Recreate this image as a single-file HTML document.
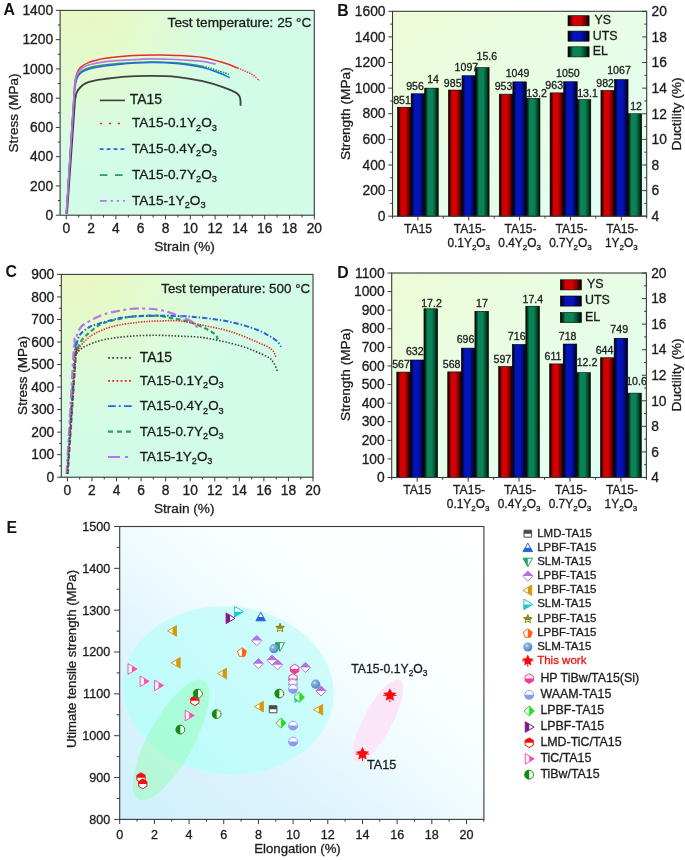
<!DOCTYPE html>
<html><head><meta charset="utf-8"><title>Figure</title>
<style>
html,body{margin:0;padding:0;background:#fff;}
body{width:685px;height:860px;overflow:hidden;}
svg{display:block;font-family:"Liberation Sans", sans-serif;will-change:transform;}
</style></head>
<body>
<svg width="685" height="860" viewBox="0 0 685 860">
<rect x="0" y="0" width="685" height="860" fill="#fff"/>
<defs>
<radialGradient id="bgA" cx="82" cy="6" r="205" gradientUnits="userSpaceOnUse"><stop offset="0" stop-color="#eaf7c2"/><stop offset="0.2" stop-color="#e6fac8"/><stop offset="0.4" stop-color="#e0fbd4"/><stop offset="0.65" stop-color="#d7fce2"/><stop offset="0.85" stop-color="#d2fce8"/><stop offset="1" stop-color="#d2fce8"/></radialGradient>
<radialGradient id="bgC" cx="83" cy="270" r="205" gradientUnits="userSpaceOnUse"><stop offset="0" stop-color="#eaf7c2"/><stop offset="0.2" stop-color="#e6fac8"/><stop offset="0.4" stop-color="#e0fbd4"/><stop offset="0.65" stop-color="#d7fce2"/><stop offset="0.85" stop-color="#d2fce8"/><stop offset="1" stop-color="#d2fce8"/></radialGradient>
<linearGradient id="bgB" x1="0" y1="0" x2="1" y2="1"><stop offset="0" stop-color="#eefcd6"/><stop offset="1" stop-color="#e0fef6"/></linearGradient>
<linearGradient id="bgD" x1="0" y1="0" x2="1" y2="1"><stop offset="0" stop-color="#eefcd6"/><stop offset="1" stop-color="#e0fef6"/></linearGradient>
<linearGradient id="bgE" x1="0" y1="1" x2="1" y2="0"><stop offset="0" stop-color="#cff0fd"/><stop offset="0.3" stop-color="#def4fd"/><stop offset="0.5" stop-color="#f0fbfe"/><stop offset="0.62" stop-color="#f8fffe"/><stop offset="1" stop-color="#ffffff"/></linearGradient>
<linearGradient id="cyE" x1="0" y1="1" x2="1" y2="0"><stop offset="0" stop-color="#b6fcfc"/><stop offset="1" stop-color="#d4fcfa"/></linearGradient>
<linearGradient id="gR" x1="0" y1="0" x2="1" y2="0"><stop offset="0" stop-color="#000"/><stop offset="0.07" stop-color="#280000"/><stop offset="0.25" stop-color="#d20000"/><stop offset="0.58" stop-color="#d20000"/><stop offset="0.82" stop-color="#700000"/><stop offset="1" stop-color="#000"/></linearGradient>
<linearGradient id="gU" x1="0" y1="0" x2="1" y2="0"><stop offset="0" stop-color="#000"/><stop offset="0.07" stop-color="#00022a"/><stop offset="0.25" stop-color="#0414ba"/><stop offset="0.58" stop-color="#0414ba"/><stop offset="0.82" stop-color="#000864"/><stop offset="1" stop-color="#000"/></linearGradient>
<linearGradient id="gE" x1="0" y1="0" x2="1" y2="0"><stop offset="0" stop-color="#000"/><stop offset="0.07" stop-color="#011e12"/><stop offset="0.25" stop-color="#0a8456"/><stop offset="0.58" stop-color="#0a8456"/><stop offset="0.82" stop-color="#02482a"/><stop offset="1" stop-color="#000"/></linearGradient>
<radialGradient id="sph" cx="0.38" cy="0.35" r="0.65"><stop offset="0" stop-color="#e8f2ff"/><stop offset="0.25" stop-color="#8ab4e4"/><stop offset="1" stop-color="#4f86c6"/></radialGradient>
</defs>
<rect x="60.1" y="10.4" width="254.2" height="204.8" fill="url(#bgA)"/>
<path d="M67 213.5 L74.6 106 C75.98 86.83 75 100.58 75.3 98.5 C75.6 96.42 75.92 94.93 76.4 93.5 C76.88 92.07 77.23 91.25 78.2 89.9 C79.17 88.55 80.5 86.7 82.2 85.4 C83.9 84.1 86.2 82.95 88.4 82.1 C90.6 81.25 92.8 80.8 95.4 80.3 C98 79.8 98.95 79.72 104 79.1 C109.05 78.48 118.03 77.13 125.7 76.6 C133.37 76.07 141.57 75.87 150 75.9 C158.43 75.93 167.53 75.92 176.3 76.8 C185.07 77.68 194.72 79.45 202.6 81.2 C210.48 82.95 218.07 85.4 223.6 87.3 C229.13 89.2 233.18 91.13 235.8 92.6 C238.42 94.07 238.53 94.87 239.3 96.1 C240.07 97.33 240.18 98.4 240.4 100 C240.62 101.6 240.57 104.75 240.6 105.7" fill="none" stroke="#404040" stroke-width="1.85" stroke-linejoin="round" />
<path d="M66.4 213.5 L74.4 92 C75.88 70.42 74.93 86.25 75.3 84 C75.67 81.75 76.05 80.12 76.6 78.5 C77.15 76.88 77.7 75.58 78.6 74.3 C79.5 73.02 80.23 71.9 82 70.8 C83.77 69.7 86.2 68.57 89.2 67.7 C92.2 66.83 95.13 66.32 100 65.6 C104.87 64.88 110.07 64.02 118.4 63.4 C126.73 62.78 140.35 62 150 61.9 C159.65 61.8 167.53 62.07 176.3 62.8 C185.07 63.53 195.3 64.85 202.6 66.3" fill="none" stroke="#2a9e5e" stroke-width="1.5" stroke-linejoin="round"/>
<path d="M202.6 66.3 C209.9 67.75 215.73 70.18 220.1 71.5 C224.47 72.82 227.35 73.75 228.8 74.2" fill="none" stroke="#2a9e5e" stroke-width="1.6" stroke-dasharray="1.6 1.0"/>
<path d="M66.4 213.5 L74.5 92 C76 70.5 75.07 86.58 75.4 84.5 C75.73 82.42 75.83 81.2 76.5 79.5 C77.17 77.8 78 75.8 79.4 74.3 C80.8 72.8 82.23 71.65 84.9 70.5 C87.57 69.35 89.82 68.42 95.4 67.4 C100.98 66.38 109.3 65.2 118.4 64.4 C127.5 63.6 140.35 62.75 150 62.6 C159.65 62.45 167.53 62.7 176.3 63.5 C185.07 64.3 195.3 65.77 202.6 67.4 C209.9 69.03 215.58 71.58 220.1 73.3 C224.62 75.02 228.1 76.97 229.7 77.7" fill="none" stroke="#2466dc" stroke-width="1.5" stroke-linejoin="round" />
<path d="M66.3 213.5 L74.2 92 C75.65 70.17 74.65 85.25 75 82.5 C75.35 79.75 75.77 77.5 76.3 75.5 C76.83 73.5 77.33 71.98 78.2 70.5 C79.07 69.02 79.8 67.92 81.5 66.6 C83.2 65.28 85.9 63.67 88.4 62.6 C90.9 61.53 93.9 60.87 96.5 60.2 C99.1 59.53 100.35 59.17 104 58.6 C107.65 58.03 112.35 57.35 118.4 56.8 C124.45 56.25 133.37 55.6 140.3 55.3 C147.23 55 154 54.98 160 55 C166 55.02 169.2 54.98 176.3 55.4 C183.4 55.82 194.72 56.27 202.6 57.5 C210.48 58.73 217.77 61.05 223.6 62.8 C229.43 64.55 232.93 66.1 237.6 68" fill="none" stroke="#ea2a2a" stroke-width="1.5" stroke-linejoin="round"/>
<path d="M237.6 68 C242.27 69.9 247.95 72.1 251.6 74.2 C255.25 76.3 258.18 79.53 259.5 80.6" fill="none" stroke="#ea2a2a" stroke-width="1.5" stroke-dasharray="1.3 1.2"/>
<path d="M66.3 213.5 L74.2 92 C75.65 70.25 74.63 85.58 75 83 C75.37 80.42 75.85 78.33 76.4 76.5 C76.95 74.67 77.37 73.37 78.3 72 C79.23 70.63 80.18 69.5 82 68.3 C83.82 67.1 85.57 65.87 89.2 64.8 C92.83 63.73 96.5 62.75 103.8 61.9 C111.1 61.05 125.3 60.2 133 59.7 C140.7 59.2 143.83 58.97 150 58.9 C156.17 58.83 164.17 59.1 170 59.3 C175.83 59.5 179.57 59.75 185 60.1 C190.43 60.45 197.48 60.72 202.6 61.4 C207.72 62.08 213.52 63.73 215.7 64.2" fill="none" stroke="#b27ae6" stroke-width="1.6" stroke-linejoin="round" />
<rect x="60.1" y="10.4" width="254.2" height="204.8" fill="none" stroke="#3a3a3a" stroke-width="1.1"/>
<line x1="57.8" y1="200.57" x2="60.1" y2="200.57" stroke="#3a3a3a" stroke-width="1" />
<line x1="57.8" y1="171.31" x2="60.1" y2="171.31" stroke="#3a3a3a" stroke-width="1" />
<line x1="57.8" y1="142.06" x2="60.1" y2="142.06" stroke="#3a3a3a" stroke-width="1" />
<line x1="57.8" y1="112.8" x2="60.1" y2="112.8" stroke="#3a3a3a" stroke-width="1" />
<line x1="57.8" y1="83.54" x2="60.1" y2="83.54" stroke="#3a3a3a" stroke-width="1" />
<line x1="57.8" y1="54.28" x2="60.1" y2="54.28" stroke="#3a3a3a" stroke-width="1" />
<line x1="57.8" y1="25.02" x2="60.1" y2="25.02" stroke="#3a3a3a" stroke-width="1" />
<line x1="55.9" y1="215.2" x2="60.1" y2="215.2" stroke="#3a3a3a" stroke-width="1" />
<text transform="translate(53.1 219.8) scale(1 1)" font-size="13.8" text-anchor="end" fill="#1c1c1c" font-weight="normal" stroke="#1c1c1c" stroke-width="0.3" >0</text>
<line x1="55.9" y1="185.94" x2="60.1" y2="185.94" stroke="#3a3a3a" stroke-width="1" />
<text transform="translate(53.1 190.54) scale(1 1)" font-size="13.8" text-anchor="end" fill="#1c1c1c" font-weight="normal" stroke="#1c1c1c" stroke-width="0.3" >200</text>
<line x1="55.9" y1="156.68" x2="60.1" y2="156.68" stroke="#3a3a3a" stroke-width="1" />
<text transform="translate(53.1 161.28) scale(1 1)" font-size="13.8" text-anchor="end" fill="#1c1c1c" font-weight="normal" stroke="#1c1c1c" stroke-width="0.3" >400</text>
<line x1="55.9" y1="127.43" x2="60.1" y2="127.43" stroke="#3a3a3a" stroke-width="1" />
<text transform="translate(53.1 132.03) scale(1 1)" font-size="13.8" text-anchor="end" fill="#1c1c1c" font-weight="normal" stroke="#1c1c1c" stroke-width="0.3" >600</text>
<line x1="55.9" y1="98.17" x2="60.1" y2="98.17" stroke="#3a3a3a" stroke-width="1" />
<text transform="translate(53.1 102.77) scale(1 1)" font-size="13.8" text-anchor="end" fill="#1c1c1c" font-weight="normal" stroke="#1c1c1c" stroke-width="0.3" >800</text>
<line x1="55.9" y1="68.91" x2="60.1" y2="68.91" stroke="#3a3a3a" stroke-width="1" />
<text transform="translate(53.1 73.51) scale(1 1)" font-size="13.8" text-anchor="end" fill="#1c1c1c" font-weight="normal" stroke="#1c1c1c" stroke-width="0.3" >1000</text>
<line x1="55.9" y1="39.65" x2="60.1" y2="39.65" stroke="#3a3a3a" stroke-width="1" />
<text transform="translate(53.1 44.25) scale(1 1)" font-size="13.8" text-anchor="end" fill="#1c1c1c" font-weight="normal" stroke="#1c1c1c" stroke-width="0.3" >1200</text>
<line x1="55.9" y1="10.39" x2="60.1" y2="10.39" stroke="#3a3a3a" stroke-width="1" />
<text transform="translate(53.1 14.99) scale(1 1)" font-size="13.8" text-anchor="end" fill="#1c1c1c" font-weight="normal" stroke="#1c1c1c" stroke-width="0.3" >1400</text>
<line x1="78.7" y1="215.2" x2="78.7" y2="217.5" stroke="#3a3a3a" stroke-width="1" />
<line x1="103.5" y1="215.2" x2="103.5" y2="217.5" stroke="#3a3a3a" stroke-width="1" />
<line x1="128.3" y1="215.2" x2="128.3" y2="217.5" stroke="#3a3a3a" stroke-width="1" />
<line x1="153.1" y1="215.2" x2="153.1" y2="217.5" stroke="#3a3a3a" stroke-width="1" />
<line x1="177.9" y1="215.2" x2="177.9" y2="217.5" stroke="#3a3a3a" stroke-width="1" />
<line x1="202.7" y1="215.2" x2="202.7" y2="217.5" stroke="#3a3a3a" stroke-width="1" />
<line x1="227.5" y1="215.2" x2="227.5" y2="217.5" stroke="#3a3a3a" stroke-width="1" />
<line x1="252.3" y1="215.2" x2="252.3" y2="217.5" stroke="#3a3a3a" stroke-width="1" />
<line x1="277.1" y1="215.2" x2="277.1" y2="217.5" stroke="#3a3a3a" stroke-width="1" />
<line x1="301.9" y1="215.2" x2="301.9" y2="217.5" stroke="#3a3a3a" stroke-width="1" />
<line x1="66.3" y1="215.2" x2="66.3" y2="219.4" stroke="#3a3a3a" stroke-width="1" />
<text transform="translate(66.3 232.9) scale(1 1)" font-size="13.8" text-anchor="middle" fill="#1c1c1c" font-weight="normal" stroke="#1c1c1c" stroke-width="0.3" >0</text>
<line x1="91.1" y1="215.2" x2="91.1" y2="219.4" stroke="#3a3a3a" stroke-width="1" />
<text transform="translate(91.1 232.9) scale(1 1)" font-size="13.8" text-anchor="middle" fill="#1c1c1c" font-weight="normal" stroke="#1c1c1c" stroke-width="0.3" >2</text>
<line x1="115.9" y1="215.2" x2="115.9" y2="219.4" stroke="#3a3a3a" stroke-width="1" />
<text transform="translate(115.9 232.9) scale(1 1)" font-size="13.8" text-anchor="middle" fill="#1c1c1c" font-weight="normal" stroke="#1c1c1c" stroke-width="0.3" >4</text>
<line x1="140.7" y1="215.2" x2="140.7" y2="219.4" stroke="#3a3a3a" stroke-width="1" />
<text transform="translate(140.7 232.9) scale(1 1)" font-size="13.8" text-anchor="middle" fill="#1c1c1c" font-weight="normal" stroke="#1c1c1c" stroke-width="0.3" >6</text>
<line x1="165.5" y1="215.2" x2="165.5" y2="219.4" stroke="#3a3a3a" stroke-width="1" />
<text transform="translate(165.5 232.9) scale(1 1)" font-size="13.8" text-anchor="middle" fill="#1c1c1c" font-weight="normal" stroke="#1c1c1c" stroke-width="0.3" >8</text>
<line x1="190.3" y1="215.2" x2="190.3" y2="219.4" stroke="#3a3a3a" stroke-width="1" />
<text transform="translate(190.3 232.9) scale(1 1)" font-size="13.8" text-anchor="middle" fill="#1c1c1c" font-weight="normal" stroke="#1c1c1c" stroke-width="0.3" >10</text>
<line x1="215.1" y1="215.2" x2="215.1" y2="219.4" stroke="#3a3a3a" stroke-width="1" />
<text transform="translate(215.1 232.9) scale(1 1)" font-size="13.8" text-anchor="middle" fill="#1c1c1c" font-weight="normal" stroke="#1c1c1c" stroke-width="0.3" >12</text>
<line x1="239.9" y1="215.2" x2="239.9" y2="219.4" stroke="#3a3a3a" stroke-width="1" />
<text transform="translate(239.9 232.9) scale(1 1)" font-size="13.8" text-anchor="middle" fill="#1c1c1c" font-weight="normal" stroke="#1c1c1c" stroke-width="0.3" >14</text>
<line x1="264.7" y1="215.2" x2="264.7" y2="219.4" stroke="#3a3a3a" stroke-width="1" />
<text transform="translate(264.7 232.9) scale(1 1)" font-size="13.8" text-anchor="middle" fill="#1c1c1c" font-weight="normal" stroke="#1c1c1c" stroke-width="0.3" >16</text>
<line x1="289.5" y1="215.2" x2="289.5" y2="219.4" stroke="#3a3a3a" stroke-width="1" />
<text transform="translate(289.5 232.9) scale(1 1)" font-size="13.8" text-anchor="middle" fill="#1c1c1c" font-weight="normal" stroke="#1c1c1c" stroke-width="0.3" >18</text>
<line x1="314.3" y1="215.2" x2="314.3" y2="219.4" stroke="#3a3a3a" stroke-width="1" />
<text transform="translate(314.3 232.9) scale(1 1)" font-size="13.8" text-anchor="middle" fill="#1c1c1c" font-weight="normal" stroke="#1c1c1c" stroke-width="0.3" >20</text>
<text transform="translate(3.4 14.9) scale(1 1)" font-size="15.8" text-anchor="start" fill="#111" font-weight="bold" >A</text>
<text transform="translate(311.3 27.2) scale(1 1)" font-size="13.6" text-anchor="end" fill="#1c1c1c" font-weight="normal" stroke="#1c1c1c" stroke-width="0.3" >Test temperature: 25 °C</text>
<text transform="translate(184.5 251.1) scale(1 1)" font-size="13.65" text-anchor="middle" fill="#1c1c1c" font-weight="normal" stroke="#1c1c1c" stroke-width="0.3" >Strain (%)</text>
<text transform="translate(18.3 112.9) rotate(-90)" font-size="13.55" text-anchor="middle" fill="#1c1c1c" font-weight="normal" stroke="#1c1c1c" stroke-width="0.3" >Stress (MPa)</text>
<line x1="99.8" y1="100.4" x2="124.9" y2="100.4" stroke="#404040" stroke-width="1.6" />
<text transform="translate(129.7 104.4) scale(1 1)" font-size="13.9" text-anchor="start" fill="#1c1c1c" font-weight="normal" stroke="#1c1c1c" stroke-width="0.3" >TA15</text>
<line x1="99.8" y1="123.5" x2="124.9" y2="123.5" stroke="#ea2a2a" stroke-width="1.6" stroke-dasharray="2.2 6.8"/>
<text transform="translate(132 127.4) scale(1 1)" font-size="13.6" text-anchor="start" fill="#1a1a1a" stroke="#1a1a1a" stroke-width="0.3" >TA15-0.1Y<tspan font-size="9.25" dy="3.2">2</tspan><tspan dy="-3.2">O</tspan><tspan font-size="9.25" dy="3.2">3</tspan></text>
<line x1="99.8" y1="149.1" x2="124.9" y2="149.1" stroke="#2466dc" stroke-width="1.6" stroke-dasharray="3.8 3.1"/>
<text transform="translate(132 153) scale(1 1)" font-size="13.6" text-anchor="start" fill="#1a1a1a" stroke="#1a1a1a" stroke-width="0.3" >TA15-0.4Y<tspan font-size="9.25" dy="3.2">2</tspan><tspan dy="-3.2">O</tspan><tspan font-size="9.25" dy="3.2">3</tspan></text>
<line x1="99.8" y1="175.2" x2="124.9" y2="175.2" stroke="#2a9e5e" stroke-width="1.75" stroke-dasharray="7.6 7.6"/>
<text transform="translate(132 179.1) scale(1 1)" font-size="13.6" text-anchor="start" fill="#1a1a1a" stroke="#1a1a1a" stroke-width="0.3" >TA15-0.7Y<tspan font-size="9.25" dy="3.2">2</tspan><tspan dy="-3.2">O</tspan><tspan font-size="9.25" dy="3.2">3</tspan></text>
<line x1="99.8" y1="200.9" x2="124.9" y2="200.9" stroke="#b27ae6" stroke-width="1.9" stroke-dasharray="7 3.8 2.3 3.8 2.3 4 2 10"/>
<text transform="translate(132 204.8) scale(1 1)" font-size="13.6" text-anchor="start" fill="#1a1a1a" stroke="#1a1a1a" stroke-width="0.3" >TA15-1Y<tspan font-size="9.25" dy="3.2">2</tspan><tspan dy="-3.2">O</tspan><tspan font-size="9.25" dy="3.2">3</tspan></text>
<rect x="61.3" y="274.4" width="251.7" height="202.8" fill="url(#bgC)"/>
<path d="M67.8 474 L75.6 358 C77.22 337.5 76.77 353.5 77.5 351 C78.23 348.5 78.53 345.62 80 343 C81.47 340.38 83.8 337.8 86.3 335.3 C88.8 332.8 92.08 330.05 95 328 C97.92 325.95 97.95 324.85 103.8 323 C109.65 321.15 121.33 318.12 130.1 316.9 C138.87 315.68 149.75 315.55 156.4 315.7 C163.05 315.85 164.82 316.87 170 317.8 C175.18 318.73 181.67 319.55 187.5 321.3 C193.33 323.05 200.83 326.43 205 328.3 C209.17 330.17 210.62 331.25 212.5 332.5 C214.38 333.75 215.43 334.67 216.3 335.8 C217.17 336.93 217.47 338.72 217.7 339.3" fill="none" stroke="#2a9e5e" stroke-width="2.2" stroke-linejoin="round" stroke-dasharray="4.6 2.8"/>
<path d="M67.2 474 L74.6 354 C76.03 332.93 75.23 350.1 75.8 347.6 C76.37 345.1 77.13 341.35 78 339 C78.87 336.65 79.33 335.33 81 333.5 C82.67 331.67 85.67 329.45 88 328 C90.33 326.55 89.45 326.5 95 324.8 C100.55 323.1 112.53 319.27 121.3 317.8 C130.07 316.33 137.82 316.3 147.6 316 C157.38 315.7 170.43 315.65 180 316 C189.57 316.35 196.45 317.07 205 318.1 C213.55 319.13 222.53 320.22 231.3 322.2 C240.07 324.18 250.3 327.08 257.6 330 C264.9 332.92 271.17 336.92 275.1 339.7 C279.03 342.48 280.18 345.53 281.2 346.7" fill="none" stroke="#2466dc" stroke-width="2" stroke-linejoin="round" stroke-dasharray="5.2 2 1.4 2"/>
<path d="M66.6 474 L73.7 350 C75.08 328.05 74.27 345.05 74.9 342.3 C75.53 339.55 76.48 336.05 77.5 333.5 C78.52 330.95 79.53 328.75 81 327 C82.47 325.25 82.5 325.12 86.3 323 C90.1 320.88 96.5 316.63 103.8 314.3 C111.1 311.97 122.8 309.93 130.1 309 C137.4 308.07 142.62 308.53 147.6 308.7 C152.58 308.87 155.92 309.22 160 310 C164.08 310.78 168.1 312.1 172.1 313.4 C176.1 314.7 180.43 316.22 184 317.8 C187.57 319.38 191.4 321.37 193.5 322.9 C195.6 324.43 195.97 325.57 196.6 327 C197.23 328.43 197.18 330.75 197.3 331.5" fill="none" stroke="#b27ae6" stroke-width="2.2" stroke-linejoin="round" stroke-dasharray="9 3.5 3 3.5"/>
<path d="M67.2 474 L75 358 C76.55 337.67 75.78 353.73 76.5 352 C77.22 350.27 77.72 349.6 79.3 347.6 C80.88 345.6 83.38 342.35 86 340 C88.62 337.65 90.57 335.75 95 333.5 C99.43 331.25 105.3 328.38 112.6 326.5 C119.9 324.62 130.9 323.12 138.8 322.2 C146.7 321.28 153.13 321.2 160 321 C166.87 320.8 172.5 320.22 180 321 C187.5 321.78 196.45 323.9 205 325.7 C213.55 327.5 222.53 329.03 231.3 331.8 C240.07 334.57 250.88 339.38 257.6 342.3 C264.32 345.22 268.53 346.82 271.6 349.3 C274.67 351.78 275.27 355.88 276 357.2" fill="none" stroke="#ea2a2a" stroke-width="1.6" stroke-linejoin="round" stroke-dasharray="1.4 1.3"/>
<path d="M67.5 474 L75.5 360 C77.08 339.83 76.37 354.58 77 353 C77.63 351.42 77.75 351.7 79.3 350.5 C80.85 349.3 82.22 347.6 86.3 345.8 C90.38 344 96.5 341.3 103.8 339.7 C111.1 338.1 121.33 336.93 130.1 336.2 C138.87 335.47 148.08 335.3 156.4 335.3 C164.72 335.3 171.9 335.77 180 336.2 C188.1 336.63 194.98 336.3 205 337.9 C215.02 339.5 229.87 342.73 240.1 345.8 C250.33 348.87 260.85 353.53 266.4 356.3 C271.95 359.07 271.52 359.77 273.4 362.4 C275.28 365.03 276.98 370.48 277.7 372.1" fill="none" stroke="#404040" stroke-width="1.6" stroke-linejoin="round" stroke-dasharray="1.5 1.7"/>
<rect x="61.3" y="274.4" width="251.7" height="202.8" fill="none" stroke="#3a3a3a" stroke-width="1.1"/>
<line x1="59" y1="465.93" x2="61.3" y2="465.93" stroke="#3a3a3a" stroke-width="1" />
<line x1="59" y1="443.4" x2="61.3" y2="443.4" stroke="#3a3a3a" stroke-width="1" />
<line x1="59" y1="420.87" x2="61.3" y2="420.87" stroke="#3a3a3a" stroke-width="1" />
<line x1="59" y1="398.33" x2="61.3" y2="398.33" stroke="#3a3a3a" stroke-width="1" />
<line x1="59" y1="375.8" x2="61.3" y2="375.8" stroke="#3a3a3a" stroke-width="1" />
<line x1="59" y1="353.27" x2="61.3" y2="353.27" stroke="#3a3a3a" stroke-width="1" />
<line x1="59" y1="330.74" x2="61.3" y2="330.74" stroke="#3a3a3a" stroke-width="1" />
<line x1="59" y1="308.2" x2="61.3" y2="308.2" stroke="#3a3a3a" stroke-width="1" />
<line x1="59" y1="285.67" x2="61.3" y2="285.67" stroke="#3a3a3a" stroke-width="1" />
<line x1="57.1" y1="477.2" x2="61.3" y2="477.2" stroke="#3a3a3a" stroke-width="1" />
<text transform="translate(54.3 481.8) scale(1 1)" font-size="13.8" text-anchor="end" fill="#1c1c1c" font-weight="normal" stroke="#1c1c1c" stroke-width="0.3" >0</text>
<line x1="57.1" y1="454.67" x2="61.3" y2="454.67" stroke="#3a3a3a" stroke-width="1" />
<text transform="translate(54.3 459.27) scale(1 1)" font-size="13.8" text-anchor="end" fill="#1c1c1c" font-weight="normal" stroke="#1c1c1c" stroke-width="0.3" >100</text>
<line x1="57.1" y1="432.13" x2="61.3" y2="432.13" stroke="#3a3a3a" stroke-width="1" />
<text transform="translate(54.3 436.73) scale(1 1)" font-size="13.8" text-anchor="end" fill="#1c1c1c" font-weight="normal" stroke="#1c1c1c" stroke-width="0.3" >200</text>
<line x1="57.1" y1="409.6" x2="61.3" y2="409.6" stroke="#3a3a3a" stroke-width="1" />
<text transform="translate(54.3 414.2) scale(1 1)" font-size="13.8" text-anchor="end" fill="#1c1c1c" font-weight="normal" stroke="#1c1c1c" stroke-width="0.3" >300</text>
<line x1="57.1" y1="387.07" x2="61.3" y2="387.07" stroke="#3a3a3a" stroke-width="1" />
<text transform="translate(54.3 391.67) scale(1 1)" font-size="13.8" text-anchor="end" fill="#1c1c1c" font-weight="normal" stroke="#1c1c1c" stroke-width="0.3" >400</text>
<line x1="57.1" y1="364.53" x2="61.3" y2="364.53" stroke="#3a3a3a" stroke-width="1" />
<text transform="translate(54.3 369.13) scale(1 1)" font-size="13.8" text-anchor="end" fill="#1c1c1c" font-weight="normal" stroke="#1c1c1c" stroke-width="0.3" >500</text>
<line x1="57.1" y1="342" x2="61.3" y2="342" stroke="#3a3a3a" stroke-width="1" />
<text transform="translate(54.3 346.6) scale(1 1)" font-size="13.8" text-anchor="end" fill="#1c1c1c" font-weight="normal" stroke="#1c1c1c" stroke-width="0.3" >600</text>
<line x1="57.1" y1="319.47" x2="61.3" y2="319.47" stroke="#3a3a3a" stroke-width="1" />
<text transform="translate(54.3 324.07) scale(1 1)" font-size="13.8" text-anchor="end" fill="#1c1c1c" font-weight="normal" stroke="#1c1c1c" stroke-width="0.3" >700</text>
<line x1="57.1" y1="296.94" x2="61.3" y2="296.94" stroke="#3a3a3a" stroke-width="1" />
<text transform="translate(54.3 301.54) scale(1 1)" font-size="13.8" text-anchor="end" fill="#1c1c1c" font-weight="normal" stroke="#1c1c1c" stroke-width="0.3" >800</text>
<line x1="57.1" y1="274.4" x2="61.3" y2="274.4" stroke="#3a3a3a" stroke-width="1" />
<text transform="translate(54.3 279) scale(1 1)" font-size="13.8" text-anchor="end" fill="#1c1c1c" font-weight="normal" stroke="#1c1c1c" stroke-width="0.3" >900</text>
<line x1="79.68" y1="477.2" x2="79.68" y2="479.5" stroke="#3a3a3a" stroke-width="1" />
<line x1="104.24" y1="477.2" x2="104.24" y2="479.5" stroke="#3a3a3a" stroke-width="1" />
<line x1="128.8" y1="477.2" x2="128.8" y2="479.5" stroke="#3a3a3a" stroke-width="1" />
<line x1="153.36" y1="477.2" x2="153.36" y2="479.5" stroke="#3a3a3a" stroke-width="1" />
<line x1="177.92" y1="477.2" x2="177.92" y2="479.5" stroke="#3a3a3a" stroke-width="1" />
<line x1="202.48" y1="477.2" x2="202.48" y2="479.5" stroke="#3a3a3a" stroke-width="1" />
<line x1="227.04" y1="477.2" x2="227.04" y2="479.5" stroke="#3a3a3a" stroke-width="1" />
<line x1="251.6" y1="477.2" x2="251.6" y2="479.5" stroke="#3a3a3a" stroke-width="1" />
<line x1="276.16" y1="477.2" x2="276.16" y2="479.5" stroke="#3a3a3a" stroke-width="1" />
<line x1="300.72" y1="477.2" x2="300.72" y2="479.5" stroke="#3a3a3a" stroke-width="1" />
<line x1="67.4" y1="477.2" x2="67.4" y2="481.4" stroke="#3a3a3a" stroke-width="1" />
<text transform="translate(67.4 494.9) scale(1 1)" font-size="13.8" text-anchor="middle" fill="#1c1c1c" font-weight="normal" stroke="#1c1c1c" stroke-width="0.3" >0</text>
<line x1="91.96" y1="477.2" x2="91.96" y2="481.4" stroke="#3a3a3a" stroke-width="1" />
<text transform="translate(91.96 494.9) scale(1 1)" font-size="13.8" text-anchor="middle" fill="#1c1c1c" font-weight="normal" stroke="#1c1c1c" stroke-width="0.3" >2</text>
<line x1="116.52" y1="477.2" x2="116.52" y2="481.4" stroke="#3a3a3a" stroke-width="1" />
<text transform="translate(116.52 494.9) scale(1 1)" font-size="13.8" text-anchor="middle" fill="#1c1c1c" font-weight="normal" stroke="#1c1c1c" stroke-width="0.3" >4</text>
<line x1="141.08" y1="477.2" x2="141.08" y2="481.4" stroke="#3a3a3a" stroke-width="1" />
<text transform="translate(141.08 494.9) scale(1 1)" font-size="13.8" text-anchor="middle" fill="#1c1c1c" font-weight="normal" stroke="#1c1c1c" stroke-width="0.3" >6</text>
<line x1="165.64" y1="477.2" x2="165.64" y2="481.4" stroke="#3a3a3a" stroke-width="1" />
<text transform="translate(165.64 494.9) scale(1 1)" font-size="13.8" text-anchor="middle" fill="#1c1c1c" font-weight="normal" stroke="#1c1c1c" stroke-width="0.3" >8</text>
<line x1="190.2" y1="477.2" x2="190.2" y2="481.4" stroke="#3a3a3a" stroke-width="1" />
<text transform="translate(190.2 494.9) scale(1 1)" font-size="13.8" text-anchor="middle" fill="#1c1c1c" font-weight="normal" stroke="#1c1c1c" stroke-width="0.3" >10</text>
<line x1="214.76" y1="477.2" x2="214.76" y2="481.4" stroke="#3a3a3a" stroke-width="1" />
<text transform="translate(214.76 494.9) scale(1 1)" font-size="13.8" text-anchor="middle" fill="#1c1c1c" font-weight="normal" stroke="#1c1c1c" stroke-width="0.3" >12</text>
<line x1="239.32" y1="477.2" x2="239.32" y2="481.4" stroke="#3a3a3a" stroke-width="1" />
<text transform="translate(239.32 494.9) scale(1 1)" font-size="13.8" text-anchor="middle" fill="#1c1c1c" font-weight="normal" stroke="#1c1c1c" stroke-width="0.3" >14</text>
<line x1="263.88" y1="477.2" x2="263.88" y2="481.4" stroke="#3a3a3a" stroke-width="1" />
<text transform="translate(263.88 494.9) scale(1 1)" font-size="13.8" text-anchor="middle" fill="#1c1c1c" font-weight="normal" stroke="#1c1c1c" stroke-width="0.3" >16</text>
<line x1="288.44" y1="477.2" x2="288.44" y2="481.4" stroke="#3a3a3a" stroke-width="1" />
<text transform="translate(288.44 494.9) scale(1 1)" font-size="13.8" text-anchor="middle" fill="#1c1c1c" font-weight="normal" stroke="#1c1c1c" stroke-width="0.3" >18</text>
<line x1="313" y1="477.2" x2="313" y2="481.4" stroke="#3a3a3a" stroke-width="1" />
<text transform="translate(313 494.9) scale(1 1)" font-size="13.8" text-anchor="middle" fill="#1c1c1c" font-weight="normal" stroke="#1c1c1c" stroke-width="0.3" >20</text>
<text transform="translate(5.4 277.3) scale(1 1)" font-size="15.8" text-anchor="start" fill="#111" font-weight="bold" >C</text>
<text transform="translate(310.2 293) scale(1 1)" font-size="13.4" text-anchor="end" fill="#1c1c1c" font-weight="normal" stroke="#1c1c1c" stroke-width="0.3" >Test temperature: 500 °C</text>
<text transform="translate(184.2 513.4) scale(1 1)" font-size="13.65" text-anchor="middle" fill="#1c1c1c" font-weight="normal" stroke="#1c1c1c" stroke-width="0.3" >Strain (%)</text>
<text transform="translate(27.1 375.5) rotate(-90)" font-size="13.5" text-anchor="middle" fill="#1c1c1c" font-weight="normal" stroke="#1c1c1c" stroke-width="0.3" >Stress (MPa)</text>
<line x1="108" y1="357.9" x2="133.2" y2="357.9" stroke="#4a4a4a" stroke-width="1.9" stroke-dasharray="1.9 2.3"/>
<text transform="translate(139.8 361.8) scale(1 1)" font-size="13.9" text-anchor="start" fill="#1c1c1c" font-weight="normal" stroke="#1c1c1c" stroke-width="0.3" >TA15</text>
<line x1="108" y1="380.9" x2="133.2" y2="380.9" stroke="#ea2a2a" stroke-width="1.9" stroke-dasharray="1.9 2.3"/>
<text transform="translate(139.8 385.2) scale(1 1)" font-size="13.45" text-anchor="start" fill="#1a1a1a" stroke="#1a1a1a" stroke-width="0.3" >TA15-0.1Y<tspan font-size="9.15" dy="3.2">2</tspan><tspan dy="-3.2">O</tspan><tspan font-size="9.15" dy="3.2">3</tspan></text>
<line x1="108" y1="406.1" x2="133.2" y2="406.1" stroke="#2466dc" stroke-width="1.9" stroke-dasharray="7.8 3 1.9 3.2 7.8 10"/>
<text transform="translate(139.8 410.4) scale(1 1)" font-size="13.45" text-anchor="start" fill="#1a1a1a" stroke="#1a1a1a" stroke-width="0.3" >TA15-0.4Y<tspan font-size="9.15" dy="3.2">2</tspan><tspan dy="-3.2">O</tspan><tspan font-size="9.15" dy="3.2">3</tspan></text>
<line x1="108" y1="431.6" x2="133.2" y2="431.6" stroke="#2a9e5e" stroke-width="2.4" stroke-dasharray="5 3.95"/>
<text transform="translate(139.8 435.9) scale(1 1)" font-size="13.45" text-anchor="start" fill="#1a1a1a" stroke="#1a1a1a" stroke-width="0.3" >TA15-0.7Y<tspan font-size="9.15" dy="3.2">2</tspan><tspan dy="-3.2">O</tspan><tspan font-size="9.15" dy="3.2">3</tspan></text>
<line x1="108" y1="456.9" x2="133.2" y2="456.9" stroke="#b27ae6" stroke-width="2" stroke-dasharray="12 4.9 3.2 10"/>
<text transform="translate(139.8 461.2) scale(1 1)" font-size="13.45" text-anchor="start" fill="#1a1a1a" stroke="#1a1a1a" stroke-width="0.3" >TA15-1Y<tspan font-size="9.15" dy="3.2">2</tspan><tspan dy="-3.2">O</tspan><tspan font-size="9.15" dy="3.2">3</tspan></text>
<rect x="392.5" y="11.3" width="254.2" height="204.9" fill="url(#bgB)"/>
<rect x="397.58" y="107.22" width="13.56" height="108.98" fill="url(#gR)" stroke="#000" stroke-width="0.6"/>
<rect x="411.14" y="93.77" width="13.56" height="122.43" fill="url(#gU)" stroke="#000" stroke-width="0.6"/>
<rect x="424.7" y="88.14" width="13.56" height="128.06" fill="url(#gE)" stroke="#000" stroke-width="0.6"/>
<rect x="448.42" y="90.06" width="13.56" height="126.14" fill="url(#gR)" stroke="#000" stroke-width="0.6"/>
<rect x="461.98" y="75.72" width="13.56" height="140.48" fill="url(#gU)" stroke="#000" stroke-width="0.6"/>
<rect x="475.54" y="67.65" width="13.56" height="148.55" fill="url(#gE)" stroke="#000" stroke-width="0.6"/>
<rect x="499.26" y="94.16" width="13.56" height="122.04" fill="url(#gR)" stroke="#000" stroke-width="0.6"/>
<rect x="512.82" y="81.86" width="13.56" height="134.34" fill="url(#gU)" stroke="#000" stroke-width="0.6"/>
<rect x="526.38" y="98.38" width="13.56" height="117.82" fill="url(#gE)" stroke="#000" stroke-width="0.6"/>
<rect x="550.1" y="92.88" width="13.56" height="123.32" fill="url(#gR)" stroke="#000" stroke-width="0.6"/>
<rect x="563.66" y="81.73" width="13.56" height="134.47" fill="url(#gU)" stroke="#000" stroke-width="0.6"/>
<rect x="577.22" y="99.66" width="13.56" height="116.54" fill="url(#gE)" stroke="#000" stroke-width="0.6"/>
<rect x="600.94" y="90.44" width="13.56" height="125.76" fill="url(#gR)" stroke="#000" stroke-width="0.6"/>
<rect x="614.5" y="79.56" width="13.56" height="136.64" fill="url(#gU)" stroke="#000" stroke-width="0.6"/>
<rect x="628.06" y="113.75" width="13.56" height="102.45" fill="url(#gE)" stroke="#000" stroke-width="0.6"/>
<text transform="translate(402 103.7) scale(1 1)" font-size="10.6" text-anchor="middle" fill="#1c1c1c" font-weight="normal" stroke="#1c1c1c" stroke-width="0.3" >851</text>
<text transform="translate(415 89.7) scale(1 1)" font-size="10.6" text-anchor="middle" fill="#1c1c1c" font-weight="normal" stroke="#1c1c1c" stroke-width="0.3" >956</text>
<text transform="translate(433.1 82.5) scale(1 1)" font-size="10.6" text-anchor="middle" fill="#1c1c1c" font-weight="normal" stroke="#1c1c1c" stroke-width="0.3" >14</text>
<text transform="translate(452.7 86.7) scale(1 1)" font-size="10.6" text-anchor="middle" fill="#1c1c1c" font-weight="normal" stroke="#1c1c1c" stroke-width="0.3" >985</text>
<text transform="translate(466.4 71.4) scale(1 1)" font-size="10.6" text-anchor="middle" fill="#1c1c1c" font-weight="normal" stroke="#1c1c1c" stroke-width="0.3" >1097</text>
<text transform="translate(486.9 59.8) scale(1 1)" font-size="10.6" text-anchor="middle" fill="#1c1c1c" font-weight="normal" stroke="#1c1c1c" stroke-width="0.3" >15.6</text>
<text transform="translate(503.5 90.2) scale(1 1)" font-size="10.6" text-anchor="middle" fill="#1c1c1c" font-weight="normal" stroke="#1c1c1c" stroke-width="0.3" >953</text>
<text transform="translate(517.5 77.4) scale(1 1)" font-size="10.6" text-anchor="middle" fill="#1c1c1c" font-weight="normal" stroke="#1c1c1c" stroke-width="0.3" >1049</text>
<text transform="translate(536.6 97.1) scale(1 1)" font-size="10.6" text-anchor="middle" fill="#1c1c1c" font-weight="normal" stroke="#1c1c1c" stroke-width="0.3" >13.2</text>
<text transform="translate(554.2 89) scale(1 1)" font-size="10.6" text-anchor="middle" fill="#1c1c1c" font-weight="normal" stroke="#1c1c1c" stroke-width="0.3" >963</text>
<text transform="translate(567.9 77.4) scale(1 1)" font-size="10.6" text-anchor="middle" fill="#1c1c1c" font-weight="normal" stroke="#1c1c1c" stroke-width="0.3" >1050</text>
<text transform="translate(587.5 97.1) scale(1 1)" font-size="10.6" text-anchor="middle" fill="#1c1c1c" font-weight="normal" stroke="#1c1c1c" stroke-width="0.3" >13.1</text>
<text transform="translate(605.1 86.8) scale(1 1)" font-size="10.6" text-anchor="middle" fill="#1c1c1c" font-weight="normal" stroke="#1c1c1c" stroke-width="0.3" >982</text>
<text transform="translate(619 74.3) scale(1 1)" font-size="10.6" text-anchor="middle" fill="#1c1c1c" font-weight="normal" stroke="#1c1c1c" stroke-width="0.3" >1067</text>
<text transform="translate(636.1 110.2) scale(1 1)" font-size="10.6" text-anchor="middle" fill="#1c1c1c" font-weight="normal" stroke="#1c1c1c" stroke-width="0.3" >12</text>
<rect x="392.5" y="11.3" width="254.2" height="204.9" fill="none" stroke="#3a3a3a" stroke-width="1.1"/>
<line x1="390.2" y1="203.39" x2="392.5" y2="203.39" stroke="#3a3a3a" stroke-width="1" />
<line x1="390.2" y1="177.78" x2="392.5" y2="177.78" stroke="#3a3a3a" stroke-width="1" />
<line x1="390.2" y1="152.17" x2="392.5" y2="152.17" stroke="#3a3a3a" stroke-width="1" />
<line x1="390.2" y1="126.56" x2="392.5" y2="126.56" stroke="#3a3a3a" stroke-width="1" />
<line x1="390.2" y1="100.94" x2="392.5" y2="100.94" stroke="#3a3a3a" stroke-width="1" />
<line x1="390.2" y1="75.33" x2="392.5" y2="75.33" stroke="#3a3a3a" stroke-width="1" />
<line x1="390.2" y1="49.72" x2="392.5" y2="49.72" stroke="#3a3a3a" stroke-width="1" />
<line x1="390.2" y1="24.11" x2="392.5" y2="24.11" stroke="#3a3a3a" stroke-width="1" />
<line x1="388.3" y1="216.2" x2="392.5" y2="216.2" stroke="#3a3a3a" stroke-width="1" />
<text transform="translate(385.5 220.8) scale(1 1)" font-size="13.8" text-anchor="end" fill="#1c1c1c" font-weight="normal" stroke="#1c1c1c" stroke-width="0.3" >0</text>
<line x1="388.3" y1="190.59" x2="392.5" y2="190.59" stroke="#3a3a3a" stroke-width="1" />
<text transform="translate(385.5 195.19) scale(1 1)" font-size="13.8" text-anchor="end" fill="#1c1c1c" font-weight="normal" stroke="#1c1c1c" stroke-width="0.3" >200</text>
<line x1="388.3" y1="164.97" x2="392.5" y2="164.97" stroke="#3a3a3a" stroke-width="1" />
<text transform="translate(385.5 169.57) scale(1 1)" font-size="13.8" text-anchor="end" fill="#1c1c1c" font-weight="normal" stroke="#1c1c1c" stroke-width="0.3" >400</text>
<line x1="388.3" y1="139.36" x2="392.5" y2="139.36" stroke="#3a3a3a" stroke-width="1" />
<text transform="translate(385.5 143.96) scale(1 1)" font-size="13.8" text-anchor="end" fill="#1c1c1c" font-weight="normal" stroke="#1c1c1c" stroke-width="0.3" >600</text>
<line x1="388.3" y1="113.75" x2="392.5" y2="113.75" stroke="#3a3a3a" stroke-width="1" />
<text transform="translate(385.5 118.35) scale(1 1)" font-size="13.8" text-anchor="end" fill="#1c1c1c" font-weight="normal" stroke="#1c1c1c" stroke-width="0.3" >800</text>
<line x1="388.3" y1="88.14" x2="392.5" y2="88.14" stroke="#3a3a3a" stroke-width="1" />
<text transform="translate(385.5 92.74) scale(1 1)" font-size="13.8" text-anchor="end" fill="#1c1c1c" font-weight="normal" stroke="#1c1c1c" stroke-width="0.3" >1000</text>
<line x1="388.3" y1="62.53" x2="392.5" y2="62.53" stroke="#3a3a3a" stroke-width="1" />
<text transform="translate(385.5 67.12) scale(1 1)" font-size="13.8" text-anchor="end" fill="#1c1c1c" font-weight="normal" stroke="#1c1c1c" stroke-width="0.3" >1200</text>
<line x1="388.3" y1="36.91" x2="392.5" y2="36.91" stroke="#3a3a3a" stroke-width="1" />
<text transform="translate(385.5 41.51) scale(1 1)" font-size="13.8" text-anchor="end" fill="#1c1c1c" font-weight="normal" stroke="#1c1c1c" stroke-width="0.3" >1400</text>
<line x1="388.3" y1="11.3" x2="392.5" y2="11.3" stroke="#3a3a3a" stroke-width="1" />
<text transform="translate(385.5 15.9) scale(1 1)" font-size="13.8" text-anchor="end" fill="#1c1c1c" font-weight="normal" stroke="#1c1c1c" stroke-width="0.3" >1600</text>
<line x1="646.7" y1="203.39" x2="644.4" y2="203.39" stroke="#3a3a3a" stroke-width="1" />
<line x1="646.7" y1="177.78" x2="644.4" y2="177.78" stroke="#3a3a3a" stroke-width="1" />
<line x1="646.7" y1="152.17" x2="644.4" y2="152.17" stroke="#3a3a3a" stroke-width="1" />
<line x1="646.7" y1="126.56" x2="644.4" y2="126.56" stroke="#3a3a3a" stroke-width="1" />
<line x1="646.7" y1="100.94" x2="644.4" y2="100.94" stroke="#3a3a3a" stroke-width="1" />
<line x1="646.7" y1="75.33" x2="644.4" y2="75.33" stroke="#3a3a3a" stroke-width="1" />
<line x1="646.7" y1="49.72" x2="644.4" y2="49.72" stroke="#3a3a3a" stroke-width="1" />
<line x1="646.7" y1="24.11" x2="644.4" y2="24.11" stroke="#3a3a3a" stroke-width="1" />
<line x1="646.7" y1="216.2" x2="642.2" y2="216.2" stroke="#3a3a3a" stroke-width="1" />
<text transform="translate(651.5 221) scale(1 1)" font-size="13.8" text-anchor="start" fill="#1c1c1c" font-weight="normal" stroke="#1c1c1c" stroke-width="0.3" >4</text>
<line x1="646.7" y1="190.59" x2="642.2" y2="190.59" stroke="#3a3a3a" stroke-width="1" />
<text transform="translate(651.5 195.39) scale(1 1)" font-size="13.8" text-anchor="start" fill="#1c1c1c" font-weight="normal" stroke="#1c1c1c" stroke-width="0.3" >6</text>
<line x1="646.7" y1="164.97" x2="642.2" y2="164.97" stroke="#3a3a3a" stroke-width="1" />
<text transform="translate(651.5 169.78) scale(1 1)" font-size="13.8" text-anchor="start" fill="#1c1c1c" font-weight="normal" stroke="#1c1c1c" stroke-width="0.3" >8</text>
<line x1="646.7" y1="139.36" x2="642.2" y2="139.36" stroke="#3a3a3a" stroke-width="1" />
<text transform="translate(651.5 144.16) scale(1 1)" font-size="13.8" text-anchor="start" fill="#1c1c1c" font-weight="normal" stroke="#1c1c1c" stroke-width="0.3" >10</text>
<line x1="646.7" y1="113.75" x2="642.2" y2="113.75" stroke="#3a3a3a" stroke-width="1" />
<text transform="translate(651.5 118.55) scale(1 1)" font-size="13.8" text-anchor="start" fill="#1c1c1c" font-weight="normal" stroke="#1c1c1c" stroke-width="0.3" >12</text>
<line x1="646.7" y1="88.14" x2="642.2" y2="88.14" stroke="#3a3a3a" stroke-width="1" />
<text transform="translate(651.5 92.94) scale(1 1)" font-size="13.8" text-anchor="start" fill="#1c1c1c" font-weight="normal" stroke="#1c1c1c" stroke-width="0.3" >14</text>
<line x1="646.7" y1="62.53" x2="642.2" y2="62.53" stroke="#3a3a3a" stroke-width="1" />
<text transform="translate(651.5 67.33) scale(1 1)" font-size="13.8" text-anchor="start" fill="#1c1c1c" font-weight="normal" stroke="#1c1c1c" stroke-width="0.3" >16</text>
<line x1="646.7" y1="36.91" x2="642.2" y2="36.91" stroke="#3a3a3a" stroke-width="1" />
<text transform="translate(651.5 41.71) scale(1 1)" font-size="13.8" text-anchor="start" fill="#1c1c1c" font-weight="normal" stroke="#1c1c1c" stroke-width="0.3" >18</text>
<line x1="646.7" y1="11.3" x2="642.2" y2="11.3" stroke="#3a3a3a" stroke-width="1" />
<text transform="translate(651.5 16.1) scale(1 1)" font-size="13.8" text-anchor="start" fill="#1c1c1c" font-weight="normal" stroke="#1c1c1c" stroke-width="0.3" >20</text>
<line x1="417.92" y1="216.2" x2="417.92" y2="220.4" stroke="#3a3a3a" stroke-width="1" />
<line x1="468.76" y1="216.2" x2="468.76" y2="220.4" stroke="#3a3a3a" stroke-width="1" />
<line x1="519.6" y1="216.2" x2="519.6" y2="220.4" stroke="#3a3a3a" stroke-width="1" />
<line x1="570.44" y1="216.2" x2="570.44" y2="220.4" stroke="#3a3a3a" stroke-width="1" />
<line x1="621.28" y1="216.2" x2="621.28" y2="220.4" stroke="#3a3a3a" stroke-width="1" />
<line x1="392.5" y1="216.2" x2="392.5" y2="218.5" stroke="#3a3a3a" stroke-width="1" />
<line x1="443.34" y1="216.2" x2="443.34" y2="218.5" stroke="#3a3a3a" stroke-width="1" />
<line x1="494.18" y1="216.2" x2="494.18" y2="218.5" stroke="#3a3a3a" stroke-width="1" />
<line x1="545.02" y1="216.2" x2="545.02" y2="218.5" stroke="#3a3a3a" stroke-width="1" />
<line x1="595.86" y1="216.2" x2="595.86" y2="218.5" stroke="#3a3a3a" stroke-width="1" />
<line x1="646.7" y1="216.2" x2="646.7" y2="218.5" stroke="#3a3a3a" stroke-width="1" />
<text transform="translate(417.92 232.6) scale(1 1)" font-size="12.1" text-anchor="middle" fill="#1c1c1c" font-weight="normal" stroke="#1c1c1c" stroke-width="0.3" >TA15</text>
<text transform="translate(469.76 232.6) scale(1 1)" font-size="12.1" text-anchor="middle" fill="#1c1c1c" font-weight="normal" stroke="#1c1c1c" stroke-width="0.3" >TA15-</text>
<text transform="translate(468.76 247) scale(1 1)" font-size="11.9" text-anchor="middle" fill="#1a1a1a" stroke="#1a1a1a" stroke-width="0.3" >0.1Y<tspan font-size="8" dy="2.8">2</tspan><tspan dy="-2.8">O</tspan><tspan font-size="8" dy="2.8">3</tspan></text>
<text transform="translate(520.6 232.6) scale(1 1)" font-size="12.1" text-anchor="middle" fill="#1c1c1c" font-weight="normal" stroke="#1c1c1c" stroke-width="0.3" >TA15-</text>
<text transform="translate(519.6 247) scale(1 1)" font-size="11.9" text-anchor="middle" fill="#1a1a1a" stroke="#1a1a1a" stroke-width="0.3" >0.4Y<tspan font-size="8" dy="2.8">2</tspan><tspan dy="-2.8">O</tspan><tspan font-size="8" dy="2.8">3</tspan></text>
<text transform="translate(571.44 232.6) scale(1 1)" font-size="12.1" text-anchor="middle" fill="#1c1c1c" font-weight="normal" stroke="#1c1c1c" stroke-width="0.3" >TA15-</text>
<text transform="translate(570.44 247) scale(1 1)" font-size="11.9" text-anchor="middle" fill="#1a1a1a" stroke="#1a1a1a" stroke-width="0.3" >0.7Y<tspan font-size="8" dy="2.8">2</tspan><tspan dy="-2.8">O</tspan><tspan font-size="8" dy="2.8">3</tspan></text>
<text transform="translate(622.28 232.6) scale(1 1)" font-size="12.1" text-anchor="middle" fill="#1c1c1c" font-weight="normal" stroke="#1c1c1c" stroke-width="0.3" >TA15-</text>
<text transform="translate(621.28 247) scale(1 1)" font-size="11.9" text-anchor="middle" fill="#1a1a1a" stroke="#1a1a1a" stroke-width="0.3" >1Y<tspan font-size="8" dy="2.8">2</tspan><tspan dy="-2.8">O</tspan><tspan font-size="8" dy="2.8">3</tspan></text>
<rect x="568" y="15.7" width="21.1" height="10.1" fill="url(#gR)" stroke="#000" stroke-width="0.6"/>
<text transform="translate(594.6 24.1) scale(1 1)" font-size="12.4" text-anchor="start" fill="#1c1c1c" font-weight="normal" stroke="#1c1c1c" stroke-width="0.3" >YS</text>
<rect x="568" y="31.1" width="21.1" height="10.1" fill="url(#gU)" stroke="#000" stroke-width="0.6"/>
<text transform="translate(592.8 39.5) scale(1 1)" font-size="12.4" text-anchor="start" fill="#1c1c1c" font-weight="normal" stroke="#1c1c1c" stroke-width="0.3" >UTS</text>
<rect x="568" y="46.8" width="21.1" height="10.1" fill="url(#gE)" stroke="#000" stroke-width="0.6"/>
<text transform="translate(592.8 55.2) scale(1 1)" font-size="12.4" text-anchor="start" fill="#1c1c1c" font-weight="normal" stroke="#1c1c1c" stroke-width="0.3" >EL</text>
<text transform="translate(337.3 15.7) scale(1 1)" font-size="15.8" text-anchor="start" fill="#111" font-weight="bold" >B</text>
<text transform="translate(350.3 113.7) rotate(-90)" font-size="13.7" text-anchor="middle" fill="#1c1c1c" font-weight="normal" stroke="#1c1c1c" stroke-width="0.3" >Strength (MPa)</text>
<text transform="translate(680.6 114) rotate(-90)" font-size="13.7" text-anchor="middle" fill="#1c1c1c" font-weight="normal" stroke="#1c1c1c" stroke-width="0.3" >Ductility (%)</text>
<rect x="391.7" y="273" width="254.7" height="204.5" fill="url(#bgD)"/>
<rect x="396.79" y="372.09" width="13.58" height="105.41" fill="url(#gR)" stroke="#000" stroke-width="0.6"/>
<rect x="410.38" y="360.01" width="13.58" height="117.49" fill="url(#gU)" stroke="#000" stroke-width="0.6"/>
<rect x="423.96" y="308.79" width="13.58" height="168.71" fill="url(#gE)" stroke="#000" stroke-width="0.6"/>
<rect x="447.73" y="371.9" width="13.58" height="105.6" fill="url(#gR)" stroke="#000" stroke-width="0.6"/>
<rect x="461.32" y="348.11" width="13.58" height="129.39" fill="url(#gU)" stroke="#000" stroke-width="0.6"/>
<rect x="474.9" y="311.34" width="13.58" height="166.16" fill="url(#gE)" stroke="#000" stroke-width="0.6"/>
<rect x="498.67" y="366.51" width="13.58" height="110.99" fill="url(#gR)" stroke="#000" stroke-width="0.6"/>
<rect x="512.26" y="344.39" width="13.58" height="133.11" fill="url(#gU)" stroke="#000" stroke-width="0.6"/>
<rect x="525.84" y="306.23" width="13.58" height="171.27" fill="url(#gE)" stroke="#000" stroke-width="0.6"/>
<rect x="549.61" y="363.91" width="13.58" height="113.59" fill="url(#gR)" stroke="#000" stroke-width="0.6"/>
<rect x="563.2" y="344.02" width="13.58" height="133.48" fill="url(#gU)" stroke="#000" stroke-width="0.6"/>
<rect x="576.78" y="372.69" width="13.58" height="104.81" fill="url(#gE)" stroke="#000" stroke-width="0.6"/>
<rect x="600.55" y="357.77" width="13.58" height="119.73" fill="url(#gR)" stroke="#000" stroke-width="0.6"/>
<rect x="614.14" y="338.25" width="13.58" height="139.25" fill="url(#gU)" stroke="#000" stroke-width="0.6"/>
<rect x="627.72" y="393.14" width="13.58" height="84.36" fill="url(#gE)" stroke="#000" stroke-width="0.6"/>
<text transform="translate(401 367.5) scale(1 1)" font-size="10.6" text-anchor="middle" fill="#1c1c1c" font-weight="normal" stroke="#1c1c1c" stroke-width="0.3" >567</text>
<text transform="translate(414.8 355.4) scale(1 1)" font-size="10.6" text-anchor="middle" fill="#1c1c1c" font-weight="normal" stroke="#1c1c1c" stroke-width="0.3" >632</text>
<text transform="translate(431.5 306.6) scale(1 1)" font-size="10.6" text-anchor="middle" fill="#1c1c1c" font-weight="normal" stroke="#1c1c1c" stroke-width="0.3" >17.2</text>
<text transform="translate(451.6 367.5) scale(1 1)" font-size="10.6" text-anchor="middle" fill="#1c1c1c" font-weight="normal" stroke="#1c1c1c" stroke-width="0.3" >568</text>
<text transform="translate(465.5 343.4) scale(1 1)" font-size="10.6" text-anchor="middle" fill="#1c1c1c" font-weight="normal" stroke="#1c1c1c" stroke-width="0.3" >696</text>
<text transform="translate(482 306.6) scale(1 1)" font-size="10.6" text-anchor="middle" fill="#1c1c1c" font-weight="normal" stroke="#1c1c1c" stroke-width="0.3" >17</text>
<text transform="translate(502.4 362.7) scale(1 1)" font-size="10.6" text-anchor="middle" fill="#1c1c1c" font-weight="normal" stroke="#1c1c1c" stroke-width="0.3" >597</text>
<text transform="translate(516.7 339.7) scale(1 1)" font-size="10.6" text-anchor="middle" fill="#1c1c1c" font-weight="normal" stroke="#1c1c1c" stroke-width="0.3" >716</text>
<text transform="translate(532.9 302.7) scale(1 1)" font-size="10.6" text-anchor="middle" fill="#1c1c1c" font-weight="normal" stroke="#1c1c1c" stroke-width="0.3" >17.4</text>
<text transform="translate(553 360.1) scale(1 1)" font-size="10.6" text-anchor="middle" fill="#1c1c1c" font-weight="normal" stroke="#1c1c1c" stroke-width="0.3" >611</text>
<text transform="translate(567.6 339.6) scale(1 1)" font-size="10.6" text-anchor="middle" fill="#1c1c1c" font-weight="normal" stroke="#1c1c1c" stroke-width="0.3" >718</text>
<text transform="translate(587 365.7) scale(1 1)" font-size="10.6" text-anchor="middle" fill="#1c1c1c" font-weight="normal" stroke="#1c1c1c" stroke-width="0.3" >12.2</text>
<text transform="translate(604.5 353.8) scale(1 1)" font-size="10.6" text-anchor="middle" fill="#1c1c1c" font-weight="normal" stroke="#1c1c1c" stroke-width="0.3" >644</text>
<text transform="translate(619.2 333.3) scale(1 1)" font-size="10.6" text-anchor="middle" fill="#1c1c1c" font-weight="normal" stroke="#1c1c1c" stroke-width="0.3" >749</text>
<text transform="translate(636.5 384.6) scale(1 1)" font-size="10.6" text-anchor="middle" fill="#1c1c1c" font-weight="normal" stroke="#1c1c1c" stroke-width="0.3" >10.6</text>
<rect x="391.7" y="273" width="254.7" height="204.5" fill="none" stroke="#3a3a3a" stroke-width="1.1"/>
<line x1="387.5" y1="477.5" x2="391.7" y2="477.5" stroke="#3a3a3a" stroke-width="1" />
<text transform="translate(384.7 482.1) scale(1 1)" font-size="13.8" text-anchor="end" fill="#1c1c1c" font-weight="normal" stroke="#1c1c1c" stroke-width="0.3" >0</text>
<line x1="387.5" y1="458.91" x2="391.7" y2="458.91" stroke="#3a3a3a" stroke-width="1" />
<text transform="translate(384.7 463.51) scale(1 1)" font-size="13.8" text-anchor="end" fill="#1c1c1c" font-weight="normal" stroke="#1c1c1c" stroke-width="0.3" >100</text>
<line x1="387.5" y1="440.32" x2="391.7" y2="440.32" stroke="#3a3a3a" stroke-width="1" />
<text transform="translate(384.7 444.92) scale(1 1)" font-size="13.8" text-anchor="end" fill="#1c1c1c" font-weight="normal" stroke="#1c1c1c" stroke-width="0.3" >200</text>
<line x1="387.5" y1="421.73" x2="391.7" y2="421.73" stroke="#3a3a3a" stroke-width="1" />
<text transform="translate(384.7 426.33) scale(1 1)" font-size="13.8" text-anchor="end" fill="#1c1c1c" font-weight="normal" stroke="#1c1c1c" stroke-width="0.3" >300</text>
<line x1="387.5" y1="403.14" x2="391.7" y2="403.14" stroke="#3a3a3a" stroke-width="1" />
<text transform="translate(384.7 407.74) scale(1 1)" font-size="13.8" text-anchor="end" fill="#1c1c1c" font-weight="normal" stroke="#1c1c1c" stroke-width="0.3" >400</text>
<line x1="387.5" y1="384.55" x2="391.7" y2="384.55" stroke="#3a3a3a" stroke-width="1" />
<text transform="translate(384.7 389.15) scale(1 1)" font-size="13.8" text-anchor="end" fill="#1c1c1c" font-weight="normal" stroke="#1c1c1c" stroke-width="0.3" >500</text>
<line x1="387.5" y1="365.95" x2="391.7" y2="365.95" stroke="#3a3a3a" stroke-width="1" />
<text transform="translate(384.7 370.55) scale(1 1)" font-size="13.8" text-anchor="end" fill="#1c1c1c" font-weight="normal" stroke="#1c1c1c" stroke-width="0.3" >600</text>
<line x1="387.5" y1="347.36" x2="391.7" y2="347.36" stroke="#3a3a3a" stroke-width="1" />
<text transform="translate(384.7 351.96) scale(1 1)" font-size="13.8" text-anchor="end" fill="#1c1c1c" font-weight="normal" stroke="#1c1c1c" stroke-width="0.3" >700</text>
<line x1="387.5" y1="328.77" x2="391.7" y2="328.77" stroke="#3a3a3a" stroke-width="1" />
<text transform="translate(384.7 333.37) scale(1 1)" font-size="13.8" text-anchor="end" fill="#1c1c1c" font-weight="normal" stroke="#1c1c1c" stroke-width="0.3" >800</text>
<line x1="387.5" y1="310.18" x2="391.7" y2="310.18" stroke="#3a3a3a" stroke-width="1" />
<text transform="translate(384.7 314.78) scale(1 1)" font-size="13.8" text-anchor="end" fill="#1c1c1c" font-weight="normal" stroke="#1c1c1c" stroke-width="0.3" >900</text>
<line x1="387.5" y1="291.59" x2="391.7" y2="291.59" stroke="#3a3a3a" stroke-width="1" />
<text transform="translate(384.7 296.19) scale(1 1)" font-size="13.8" text-anchor="end" fill="#1c1c1c" font-weight="normal" stroke="#1c1c1c" stroke-width="0.3" >1000</text>
<line x1="387.5" y1="273" x2="391.7" y2="273" stroke="#3a3a3a" stroke-width="1" />
<text transform="translate(384.7 277.6) scale(1 1)" font-size="13.8" text-anchor="end" fill="#1c1c1c" font-weight="normal" stroke="#1c1c1c" stroke-width="0.3" >1100</text>
<line x1="646.4" y1="464.72" x2="644.1" y2="464.72" stroke="#3a3a3a" stroke-width="1" />
<line x1="646.4" y1="439.16" x2="644.1" y2="439.16" stroke="#3a3a3a" stroke-width="1" />
<line x1="646.4" y1="413.59" x2="644.1" y2="413.59" stroke="#3a3a3a" stroke-width="1" />
<line x1="646.4" y1="388.03" x2="644.1" y2="388.03" stroke="#3a3a3a" stroke-width="1" />
<line x1="646.4" y1="362.47" x2="644.1" y2="362.47" stroke="#3a3a3a" stroke-width="1" />
<line x1="646.4" y1="336.91" x2="644.1" y2="336.91" stroke="#3a3a3a" stroke-width="1" />
<line x1="646.4" y1="311.34" x2="644.1" y2="311.34" stroke="#3a3a3a" stroke-width="1" />
<line x1="646.4" y1="285.78" x2="644.1" y2="285.78" stroke="#3a3a3a" stroke-width="1" />
<line x1="646.4" y1="477.5" x2="641.9" y2="477.5" stroke="#3a3a3a" stroke-width="1" />
<text transform="translate(651.2 482.3) scale(1 1)" font-size="13.8" text-anchor="start" fill="#1c1c1c" font-weight="normal" stroke="#1c1c1c" stroke-width="0.3" >4</text>
<line x1="646.4" y1="451.94" x2="641.9" y2="451.94" stroke="#3a3a3a" stroke-width="1" />
<text transform="translate(651.2 456.74) scale(1 1)" font-size="13.8" text-anchor="start" fill="#1c1c1c" font-weight="normal" stroke="#1c1c1c" stroke-width="0.3" >6</text>
<line x1="646.4" y1="426.38" x2="641.9" y2="426.38" stroke="#3a3a3a" stroke-width="1" />
<text transform="translate(651.2 431.18) scale(1 1)" font-size="13.8" text-anchor="start" fill="#1c1c1c" font-weight="normal" stroke="#1c1c1c" stroke-width="0.3" >8</text>
<line x1="646.4" y1="400.81" x2="641.9" y2="400.81" stroke="#3a3a3a" stroke-width="1" />
<text transform="translate(651.2 405.61) scale(1 1)" font-size="13.8" text-anchor="start" fill="#1c1c1c" font-weight="normal" stroke="#1c1c1c" stroke-width="0.3" >10</text>
<line x1="646.4" y1="375.25" x2="641.9" y2="375.25" stroke="#3a3a3a" stroke-width="1" />
<text transform="translate(651.2 380.05) scale(1 1)" font-size="13.8" text-anchor="start" fill="#1c1c1c" font-weight="normal" stroke="#1c1c1c" stroke-width="0.3" >12</text>
<line x1="646.4" y1="349.69" x2="641.9" y2="349.69" stroke="#3a3a3a" stroke-width="1" />
<text transform="translate(651.2 354.49) scale(1 1)" font-size="13.8" text-anchor="start" fill="#1c1c1c" font-weight="normal" stroke="#1c1c1c" stroke-width="0.3" >14</text>
<line x1="646.4" y1="324.12" x2="641.9" y2="324.12" stroke="#3a3a3a" stroke-width="1" />
<text transform="translate(651.2 328.93) scale(1 1)" font-size="13.8" text-anchor="start" fill="#1c1c1c" font-weight="normal" stroke="#1c1c1c" stroke-width="0.3" >16</text>
<line x1="646.4" y1="298.56" x2="641.9" y2="298.56" stroke="#3a3a3a" stroke-width="1" />
<text transform="translate(651.2 303.36) scale(1 1)" font-size="13.8" text-anchor="start" fill="#1c1c1c" font-weight="normal" stroke="#1c1c1c" stroke-width="0.3" >18</text>
<line x1="646.4" y1="273" x2="641.9" y2="273" stroke="#3a3a3a" stroke-width="1" />
<text transform="translate(651.2 277.8) scale(1 1)" font-size="13.8" text-anchor="start" fill="#1c1c1c" font-weight="normal" stroke="#1c1c1c" stroke-width="0.3" >20</text>
<line x1="417.17" y1="477.5" x2="417.17" y2="481.7" stroke="#3a3a3a" stroke-width="1" />
<line x1="468.11" y1="477.5" x2="468.11" y2="481.7" stroke="#3a3a3a" stroke-width="1" />
<line x1="519.05" y1="477.5" x2="519.05" y2="481.7" stroke="#3a3a3a" stroke-width="1" />
<line x1="569.99" y1="477.5" x2="569.99" y2="481.7" stroke="#3a3a3a" stroke-width="1" />
<line x1="620.93" y1="477.5" x2="620.93" y2="481.7" stroke="#3a3a3a" stroke-width="1" />
<line x1="391.7" y1="477.5" x2="391.7" y2="479.8" stroke="#3a3a3a" stroke-width="1" />
<line x1="442.64" y1="477.5" x2="442.64" y2="479.8" stroke="#3a3a3a" stroke-width="1" />
<line x1="493.58" y1="477.5" x2="493.58" y2="479.8" stroke="#3a3a3a" stroke-width="1" />
<line x1="544.52" y1="477.5" x2="544.52" y2="479.8" stroke="#3a3a3a" stroke-width="1" />
<line x1="595.46" y1="477.5" x2="595.46" y2="479.8" stroke="#3a3a3a" stroke-width="1" />
<line x1="646.4" y1="477.5" x2="646.4" y2="479.8" stroke="#3a3a3a" stroke-width="1" />
<text transform="translate(417.17 493.9) scale(1 1)" font-size="12.1" text-anchor="middle" fill="#1c1c1c" font-weight="normal" stroke="#1c1c1c" stroke-width="0.3" >TA15</text>
<text transform="translate(469.11 493.9) scale(1 1)" font-size="12.1" text-anchor="middle" fill="#1c1c1c" font-weight="normal" stroke="#1c1c1c" stroke-width="0.3" >TA15-</text>
<text transform="translate(468.11 508.3) scale(1 1)" font-size="11.9" text-anchor="middle" fill="#1a1a1a" stroke="#1a1a1a" stroke-width="0.3" >0.1Y<tspan font-size="8" dy="2.8">2</tspan><tspan dy="-2.8">O</tspan><tspan font-size="8" dy="2.8">3</tspan></text>
<text transform="translate(520.05 493.9) scale(1 1)" font-size="12.1" text-anchor="middle" fill="#1c1c1c" font-weight="normal" stroke="#1c1c1c" stroke-width="0.3" >TA15-</text>
<text transform="translate(519.05 508.3) scale(1 1)" font-size="11.9" text-anchor="middle" fill="#1a1a1a" stroke="#1a1a1a" stroke-width="0.3" >0.4Y<tspan font-size="8" dy="2.8">2</tspan><tspan dy="-2.8">O</tspan><tspan font-size="8" dy="2.8">3</tspan></text>
<text transform="translate(570.99 493.9) scale(1 1)" font-size="12.1" text-anchor="middle" fill="#1c1c1c" font-weight="normal" stroke="#1c1c1c" stroke-width="0.3" >TA15-</text>
<text transform="translate(569.99 508.3) scale(1 1)" font-size="11.9" text-anchor="middle" fill="#1a1a1a" stroke="#1a1a1a" stroke-width="0.3" >0.7Y<tspan font-size="8" dy="2.8">2</tspan><tspan dy="-2.8">O</tspan><tspan font-size="8" dy="2.8">3</tspan></text>
<text transform="translate(621.93 493.9) scale(1 1)" font-size="12.1" text-anchor="middle" fill="#1c1c1c" font-weight="normal" stroke="#1c1c1c" stroke-width="0.3" >TA15-</text>
<text transform="translate(620.93 508.3) scale(1 1)" font-size="11.9" text-anchor="middle" fill="#1a1a1a" stroke="#1a1a1a" stroke-width="0.3" >1Y<tspan font-size="8" dy="2.8">2</tspan><tspan dy="-2.8">O</tspan><tspan font-size="8" dy="2.8">3</tspan></text>
<rect x="560.3" y="279.8" width="21.1" height="10.1" fill="url(#gR)" stroke="#000" stroke-width="0.6"/>
<text transform="translate(586.9 288.2) scale(1 1)" font-size="12.4" text-anchor="start" fill="#1c1c1c" font-weight="normal" stroke="#1c1c1c" stroke-width="0.3" >YS</text>
<rect x="560.3" y="296" width="21.1" height="10.1" fill="url(#gU)" stroke="#000" stroke-width="0.6"/>
<text transform="translate(585.1 304.4) scale(1 1)" font-size="12.4" text-anchor="start" fill="#1c1c1c" font-weight="normal" stroke="#1c1c1c" stroke-width="0.3" >UTS</text>
<rect x="560.3" y="312.5" width="21.1" height="10.1" fill="url(#gE)" stroke="#000" stroke-width="0.6"/>
<text transform="translate(585.1 320.9) scale(1 1)" font-size="12.4" text-anchor="start" fill="#1c1c1c" font-weight="normal" stroke="#1c1c1c" stroke-width="0.3" >EL</text>
<text transform="translate(337.3 277.9) scale(1 1)" font-size="15.8" text-anchor="start" fill="#111" font-weight="bold" >D</text>
<text transform="translate(349.9 374.5) rotate(-90)" font-size="13.7" text-anchor="middle" fill="#1c1c1c" font-weight="normal" stroke="#1c1c1c" stroke-width="0.3" >Strength (MPa)</text>
<text transform="translate(680.6 375) rotate(-90)" font-size="13.7" text-anchor="middle" fill="#1c1c1c" font-weight="normal" stroke="#1c1c1c" stroke-width="0.3" >Ductility (%)</text>
<rect x="119.7" y="526.5" width="364.2" height="292.9" fill="url(#bgE)"/>
<clipPath id="clipE"><rect x="119.7" y="526.5" width="364.2" height="292.9"/></clipPath>
<g clip-path="url(#clipE)">
<ellipse cx="0" cy="0" rx="105.5" ry="83.8" fill="url(#cyE)" transform="translate(228.4 690.2) rotate(5)"/>
<ellipse cx="0" cy="0" rx="68" ry="22.7" fill="#8cffa8" fill-opacity="0.42" transform="translate(171 740) rotate(-61.2)"/>
<ellipse cx="0" cy="0" rx="46.2" ry="14.2" fill="#fbe6f8" transform="translate(378 720.7) rotate(-61.8)"/>
</g>
<clipPath id="mc1"><rect x="291.9" y="697" width="14" height="7"/></clipPath>
<path d="M303.85 697L294.94 691.7L294.94 702.3Z" fill="#fff"/>
<path d="M303.85 697L294.94 691.7L294.94 702.3Z" fill="#20c8cc" clip-path="url(#mc1)"/>
<path d="M303.85 697L294.94 691.7L294.94 702.3Z" fill="none" stroke="#20c8cc" stroke-width="1" stroke-linejoin="miter"/>
<clipPath id="mc2"><rect x="286" y="678.6" width="14" height="7"/></clipPath>
<path d="M293 673.75L297.12 676.18L297.12 681.02L293 683.45L288.88 681.02L288.88 676.18Z" fill="#fff"/>
<path d="M293 673.75L297.12 676.18L297.12 681.02L293 683.45L288.88 681.02L288.88 676.18Z" fill="#f53a9a" clip-path="url(#mc2)"/>
<path d="M293 673.75L297.12 676.18L297.12 681.02L293 683.45L288.88 681.02L288.88 676.18Z" fill="none" stroke="#f53a9a" stroke-width="1" stroke-linejoin="miter"/>
<clipPath id="mc3"><rect x="287.7" y="669.1" width="14" height="7"/></clipPath>
<path d="M294.7 664.25L298.82 666.68L298.82 671.52L294.7 673.95L290.58 671.52L290.58 666.68Z" fill="#fff"/>
<path d="M294.7 664.25L298.82 666.68L298.82 671.52L294.7 673.95L290.58 671.52L290.58 666.68Z" fill="#f53a9a" clip-path="url(#mc3)"/>
<path d="M294.7 664.25L298.82 666.68L298.82 671.52L294.7 673.95L290.58 671.52L290.58 666.68Z" fill="none" stroke="#f53a9a" stroke-width="1" stroke-linejoin="miter"/>
<clipPath id="mc4"><rect x="286" y="683.7" width="14" height="7"/></clipPath>
<circle cx="293" cy="683.7" r="4.85" fill="#fff"/>
<circle cx="293" cy="683.7" r="4.85" fill="#8e98f6" clip-path="url(#mc4)"/>
<circle cx="293" cy="683.7" r="4.35" fill="none" stroke="#8e98f6" stroke-width="1"/>
<clipPath id="mc5"><rect x="286" y="688.8" width="14" height="7"/></clipPath>
<circle cx="293" cy="688.8" r="4.85" fill="#fff"/>
<circle cx="293" cy="688.8" r="4.85" fill="#8e98f6" clip-path="url(#mc5)"/>
<circle cx="293" cy="688.8" r="4.35" fill="none" stroke="#8e98f6" stroke-width="1"/>
<clipPath id="mc6"><rect x="286.1" y="725.5" width="14" height="7"/></clipPath>
<circle cx="293.1" cy="725.5" r="4.85" fill="#fff"/>
<circle cx="293.1" cy="725.5" r="4.85" fill="#8e98f6" clip-path="url(#mc6)"/>
<circle cx="293.1" cy="725.5" r="4.35" fill="none" stroke="#8e98f6" stroke-width="1"/>
<clipPath id="mc7"><rect x="286.1" y="741.5" width="14" height="7"/></clipPath>
<circle cx="293.1" cy="741.5" r="4.85" fill="#fff"/>
<circle cx="293.1" cy="741.5" r="4.85" fill="#8e98f6" clip-path="url(#mc7)"/>
<circle cx="293.1" cy="741.5" r="4.35" fill="none" stroke="#8e98f6" stroke-width="1"/>
<clipPath id="mc8"><rect x="266.1" y="702.3" width="14" height="7"/></clipPath>
<path d="M269.3 705.8H276.9V712.8H269.3Z" fill="#fff"/>
<path d="M269.3 705.8H276.9V712.8H269.3Z" fill="#4a4a4a" clip-path="url(#mc8)"/>
<path d="M269.3 705.8H276.9V712.8H269.3Z" fill="none" stroke="#4a4a4a" stroke-width="1" stroke-linejoin="miter"/>
<clipPath id="mc9"><rect x="253.7" y="617" width="14" height="7"/></clipPath>
<path d="M260.7 612.25L265.45 620.8L255.95 620.8Z" fill="#fff"/>
<path d="M260.7 612.25L265.45 620.8L255.95 620.8Z" fill="#1f64d8" clip-path="url(#mc9)"/>
<path d="M260.7 612.25L265.45 620.8L255.95 620.8Z" fill="none" stroke="#1f64d8" stroke-width="1" stroke-linejoin="miter"/>
<clipPath id="mc10"><rect x="272.9" y="639.5" width="7" height="14"/></clipPath>
<path d="M279.9 651.25L284.65 642.7L275.15 642.7Z" fill="#fff"/>
<path d="M279.9 651.25L284.65 642.7L275.15 642.7Z" fill="#1fa462" clip-path="url(#mc10)"/>
<path d="M279.9 651.25L284.65 642.7L275.15 642.7Z" fill="none" stroke="#1fa462" stroke-width="1" stroke-linejoin="miter"/>
<clipPath id="mc11"><rect x="249.8" y="633.6" width="14" height="7"/></clipPath>
<path d="M256.8 635.5L261.9 640.6L256.8 645.7L251.7 640.6Z" fill="#fff"/>
<path d="M256.8 635.5L261.9 640.6L256.8 645.7L251.7 640.6Z" fill="#b072e0" clip-path="url(#mc11)"/>
<path d="M256.8 635.5L261.9 640.6L256.8 645.7L251.7 640.6Z" fill="none" stroke="#b072e0" stroke-width="1" stroke-linejoin="miter"/>
<clipPath id="mc12"><rect x="251.4" y="656.7" width="14" height="7"/></clipPath>
<path d="M258.4 658.6L263.5 663.7L258.4 668.8L253.3 663.7Z" fill="#fff"/>
<path d="M258.4 658.6L263.5 663.7L258.4 668.8L253.3 663.7Z" fill="#b072e0" clip-path="url(#mc12)"/>
<path d="M258.4 658.6L263.5 663.7L258.4 668.8L253.3 663.7Z" fill="none" stroke="#b072e0" stroke-width="1" stroke-linejoin="miter"/>
<clipPath id="mc13"><rect x="265.1" y="653.2" width="14" height="7"/></clipPath>
<path d="M272.1 655.1L277.2 660.2L272.1 665.3L267 660.2Z" fill="#fff"/>
<path d="M272.1 655.1L277.2 660.2L272.1 665.3L267 660.2Z" fill="#b072e0" clip-path="url(#mc13)"/>
<path d="M272.1 655.1L277.2 660.2L272.1 665.3L267 660.2Z" fill="none" stroke="#b072e0" stroke-width="1" stroke-linejoin="miter"/>
<clipPath id="mc14"><rect x="270.6" y="657.8" width="14" height="7"/></clipPath>
<path d="M277.6 659.7L282.7 664.8L277.6 669.9L272.5 664.8Z" fill="#fff"/>
<path d="M277.6 659.7L282.7 664.8L277.6 669.9L272.5 664.8Z" fill="#b072e0" clip-path="url(#mc14)"/>
<path d="M277.6 659.7L282.7 664.8L277.6 669.9L272.5 664.8Z" fill="none" stroke="#b072e0" stroke-width="1" stroke-linejoin="miter"/>
<clipPath id="mc15"><rect x="298.4" y="660.5" width="14" height="7"/></clipPath>
<path d="M305.4 662.4L310.5 667.5L305.4 672.6L300.3 667.5Z" fill="#fff"/>
<path d="M305.4 662.4L310.5 667.5L305.4 672.6L300.3 667.5Z" fill="#b072e0" clip-path="url(#mc15)"/>
<path d="M305.4 662.4L310.5 667.5L305.4 672.6L300.3 667.5Z" fill="none" stroke="#b072e0" stroke-width="1" stroke-linejoin="miter"/>
<clipPath id="mc16"><rect x="314" y="683.9" width="14" height="7"/></clipPath>
<path d="M321 685.8L326.1 690.9L321 696L315.9 690.9Z" fill="#fff"/>
<path d="M321 685.8L326.1 690.9L321 696L315.9 690.9Z" fill="#b072e0" clip-path="url(#mc16)"/>
<path d="M321 685.8L326.1 690.9L321 696L315.9 690.9Z" fill="none" stroke="#b072e0" stroke-width="1" stroke-linejoin="miter"/>
<clipPath id="mc17"><rect x="172.5" y="623.9" width="7" height="14"/></clipPath>
<path d="M167.55 630.9L176.46 625.6L176.46 636.2Z" fill="#fff"/>
<path d="M167.55 630.9L176.46 625.6L176.46 636.2Z" fill="#d29a12" clip-path="url(#mc17)"/>
<path d="M167.55 630.9L176.46 625.6L176.46 636.2Z" fill="none" stroke="#d29a12" stroke-width="1" stroke-linejoin="miter"/>
<clipPath id="mc18"><rect x="176.2" y="655.8" width="7" height="14"/></clipPath>
<path d="M171.25 662.8L180.16 657.5L180.16 668.1Z" fill="#fff"/>
<path d="M171.25 662.8L180.16 657.5L180.16 668.1Z" fill="#d29a12" clip-path="url(#mc18)"/>
<path d="M171.25 662.8L180.16 657.5L180.16 668.1Z" fill="none" stroke="#d29a12" stroke-width="1" stroke-linejoin="miter"/>
<clipPath id="mc19"><rect x="222.6" y="666.5" width="7" height="14"/></clipPath>
<path d="M217.65 673.5L226.56 668.2L226.56 678.8Z" fill="#fff"/>
<path d="M217.65 673.5L226.56 668.2L226.56 678.8Z" fill="#d29a12" clip-path="url(#mc19)"/>
<path d="M217.65 673.5L226.56 668.2L226.56 678.8Z" fill="none" stroke="#d29a12" stroke-width="1" stroke-linejoin="miter"/>
<clipPath id="mc20"><rect x="259.4" y="699.6" width="7" height="14"/></clipPath>
<path d="M254.45 706.6L263.36 701.3L263.36 711.9Z" fill="#fff"/>
<path d="M254.45 706.6L263.36 701.3L263.36 711.9Z" fill="#d29a12" clip-path="url(#mc20)"/>
<path d="M254.45 706.6L263.36 701.3L263.36 711.9Z" fill="none" stroke="#d29a12" stroke-width="1" stroke-linejoin="miter"/>
<clipPath id="mc21"><rect x="318.7" y="702.7" width="7" height="14"/></clipPath>
<path d="M313.75 709.7L322.66 704.4L322.66 715Z" fill="#fff"/>
<path d="M313.75 709.7L322.66 704.4L322.66 715Z" fill="#d29a12" clip-path="url(#mc21)"/>
<path d="M313.75 709.7L322.66 704.4L322.66 715Z" fill="none" stroke="#d29a12" stroke-width="1" stroke-linejoin="miter"/>
<clipPath id="mc22"><rect x="231.6" y="611.7" width="14" height="7"/></clipPath>
<path d="M243.55 611.7L234.64 606.4L234.64 617Z" fill="#fff"/>
<path d="M243.55 611.7L234.64 606.4L234.64 617Z" fill="#20c8cc" clip-path="url(#mc22)"/>
<path d="M243.55 611.7L234.64 606.4L234.64 617Z" fill="none" stroke="#20c8cc" stroke-width="1" stroke-linejoin="miter"/>
<clipPath id="mc23"><rect x="273.1" y="621.7" width="14" height="7"/></clipPath>
<path d="M280.1 623.3L281.3 626.24L284.47 626.48L282.05 628.53L282.8 631.62L280.1 629.95L277.4 631.62L278.15 628.53L275.73 626.48L278.9 626.24Z" fill="#fff"/>
<path d="M280.1 623.3L281.3 626.24L284.47 626.48L282.05 628.53L282.8 631.62L280.1 629.95L277.4 631.62L278.15 628.53L275.73 626.48L278.9 626.24Z" fill="#8a8a12" clip-path="url(#mc23)"/>
<path d="M280.1 623.3L281.3 626.24L284.47 626.48L282.05 628.53L282.8 631.62L280.1 629.95L277.4 631.62L278.15 628.53L275.73 626.48L278.9 626.24Z" fill="none" stroke="#8a8a12" stroke-width="1" stroke-linejoin="miter"/>
<clipPath id="mc24"><rect x="242" y="644.7" width="7" height="14"/></clipPath>
<path d="M242 647.8L246.47 651.05L244.76 656.3L239.24 656.3L237.53 651.05Z" fill="#fff"/>
<path d="M242 647.8L246.47 651.05L244.76 656.3L239.24 656.3L237.53 651.05Z" fill="#ff6414" clip-path="url(#mc24)"/>
<path d="M242 647.8L246.47 651.05L244.76 656.3L239.24 656.3L237.53 651.05Z" fill="none" stroke="#ff6414" stroke-width="1" stroke-linejoin="miter"/>
<circle cx="273.9" cy="648.7" r="4.6" fill="url(#sph)"/>
<circle cx="315.6" cy="684.2" r="4.6" fill="url(#sph)"/>
<clipPath id="mc25"><rect x="299.3" y="690.2" width="7" height="14"/></clipPath>
<path d="M299.3 692.1L304.4 697.2L299.3 702.3L294.2 697.2Z" fill="#fff"/>
<path d="M299.3 692.1L304.4 697.2L299.3 702.3L294.2 697.2Z" fill="#22e022" clip-path="url(#mc25)"/>
<path d="M299.3 692.1L304.4 697.2L299.3 702.3L294.2 697.2Z" fill="none" stroke="#22e022" stroke-width="1" stroke-linejoin="miter"/>
<clipPath id="mc26"><rect x="280.9" y="716" width="7" height="14"/></clipPath>
<path d="M280.9 717.9L286 723L280.9 728.1L275.8 723Z" fill="#fff"/>
<path d="M280.9 717.9L286 723L280.9 728.1L275.8 723Z" fill="#22e022" clip-path="url(#mc26)"/>
<path d="M280.9 717.9L286 723L280.9 728.1L275.8 723Z" fill="none" stroke="#22e022" stroke-width="1" stroke-linejoin="miter"/>
<clipPath id="mc27"><rect x="223.1" y="611.3" width="7" height="14"/></clipPath>
<path d="M235.05 618.3L226.14 613L226.14 623.6Z" fill="#fff"/>
<path d="M235.05 618.3L226.14 613L226.14 623.6Z" fill="#801a8c" clip-path="url(#mc27)"/>
<path d="M235.05 618.3L226.14 613L226.14 623.6Z" fill="none" stroke="#801a8c" stroke-width="1" stroke-linejoin="miter"/>
<clipPath id="mc28"><rect x="134" y="770.7" width="14" height="7"/></clipPath>
<path d="M141 772.85L145.12 775.28L145.12 780.12L141 782.55L136.88 780.12L136.88 775.28Z" fill="#fff"/>
<path d="M141 772.85L145.12 775.28L145.12 780.12L141 782.55L136.88 780.12L136.88 775.28Z" fill="#f01010" clip-path="url(#mc28)"/>
<path d="M141 772.85L145.12 775.28L145.12 780.12L141 782.55L136.88 780.12L136.88 775.28Z" fill="none" stroke="#f01010" stroke-width="1" stroke-linejoin="miter"/>
<clipPath id="mc29"><rect x="135.8" y="776.9" width="14" height="7"/></clipPath>
<path d="M142.8 779.05L146.92 781.48L146.92 786.32L142.8 788.75L138.68 786.32L138.68 781.48Z" fill="#fff"/>
<path d="M142.8 779.05L146.92 781.48L146.92 786.32L142.8 788.75L138.68 786.32L138.68 781.48Z" fill="#f01010" clip-path="url(#mc29)"/>
<path d="M142.8 779.05L146.92 781.48L146.92 786.32L142.8 788.75L138.68 786.32L138.68 781.48Z" fill="none" stroke="#f01010" stroke-width="1" stroke-linejoin="miter"/>
<clipPath id="mc30"><rect x="187.8" y="693.7" width="14" height="7"/></clipPath>
<path d="M194.8 695.85L198.92 698.28L198.92 703.12L194.8 705.55L190.68 703.12L190.68 698.28Z" fill="#fff"/>
<path d="M194.8 695.85L198.92 698.28L198.92 703.12L194.8 705.55L190.68 703.12L190.68 698.28Z" fill="#f01010" clip-path="url(#mc30)"/>
<path d="M194.8 695.85L198.92 698.28L198.92 703.12L194.8 705.55L190.68 703.12L190.68 698.28Z" fill="none" stroke="#f01010" stroke-width="1" stroke-linejoin="miter"/>
<clipPath id="mc31"><rect x="132" y="662" width="7" height="14"/></clipPath>
<path d="M136.95 669L128.04 663.7L128.04 674.3Z" fill="#fff"/>
<path d="M136.95 669L128.04 663.7L128.04 674.3Z" fill="#ff4cb4" clip-path="url(#mc31)"/>
<path d="M136.95 669L128.04 663.7L128.04 674.3Z" fill="none" stroke="#ff4cb4" stroke-width="1" stroke-linejoin="miter"/>
<clipPath id="mc32"><rect x="144.1" y="674.3" width="7" height="14"/></clipPath>
<path d="M149.05 681.3L140.14 676L140.14 686.6Z" fill="#fff"/>
<path d="M149.05 681.3L140.14 676L140.14 686.6Z" fill="#ff4cb4" clip-path="url(#mc32)"/>
<path d="M149.05 681.3L140.14 676L140.14 686.6Z" fill="none" stroke="#ff4cb4" stroke-width="1" stroke-linejoin="miter"/>
<clipPath id="mc33"><rect x="158.5" y="678.4" width="7" height="14"/></clipPath>
<path d="M163.45 685.4L154.54 680.1L154.54 690.7Z" fill="#fff"/>
<path d="M163.45 685.4L154.54 680.1L154.54 690.7Z" fill="#ff4cb4" clip-path="url(#mc33)"/>
<path d="M163.45 685.4L154.54 680.1L154.54 690.7Z" fill="none" stroke="#ff4cb4" stroke-width="1" stroke-linejoin="miter"/>
<clipPath id="mc34"><rect x="189.2" y="708.5" width="7" height="14"/></clipPath>
<path d="M194.15 715.5L185.24 710.2L185.24 720.8Z" fill="#fff"/>
<path d="M194.15 715.5L185.24 710.2L185.24 720.8Z" fill="#ff4cb4" clip-path="url(#mc34)"/>
<path d="M194.15 715.5L185.24 710.2L185.24 720.8Z" fill="none" stroke="#ff4cb4" stroke-width="1" stroke-linejoin="miter"/>
<clipPath id="mc35"><rect x="191" y="686.6" width="7" height="14"/></clipPath>
<circle cx="198" cy="693.6" r="4.85" fill="#fff"/>
<circle cx="198" cy="693.6" r="4.85" fill="#128c12" clip-path="url(#mc35)"/>
<circle cx="198" cy="693.6" r="4.35" fill="none" stroke="#128c12" stroke-width="1"/>
<clipPath id="mc36"><rect x="209.7" y="707.1" width="7" height="14"/></clipPath>
<circle cx="216.7" cy="714.1" r="4.85" fill="#fff"/>
<circle cx="216.7" cy="714.1" r="4.85" fill="#128c12" clip-path="url(#mc36)"/>
<circle cx="216.7" cy="714.1" r="4.35" fill="none" stroke="#128c12" stroke-width="1"/>
<clipPath id="mc37"><rect x="173.4" y="722.6" width="7" height="14"/></clipPath>
<circle cx="180.4" cy="729.6" r="4.85" fill="#fff"/>
<circle cx="180.4" cy="729.6" r="4.85" fill="#128c12" clip-path="url(#mc37)"/>
<circle cx="180.4" cy="729.6" r="4.35" fill="none" stroke="#128c12" stroke-width="1"/>
<clipPath id="mc38"><rect x="272.4" y="686.6" width="7" height="14"/></clipPath>
<circle cx="279.4" cy="693.6" r="4.85" fill="#fff"/>
<circle cx="279.4" cy="693.6" r="4.85" fill="#128c12" clip-path="url(#mc38)"/>
<circle cx="279.4" cy="693.6" r="4.35" fill="none" stroke="#128c12" stroke-width="1"/>
<path d="M389.9 688.2L391.93 692.31L396.46 692.97L393.18 696.17L393.96 700.68L389.9 698.55L385.84 700.68L386.62 696.17L383.34 692.97L387.87 692.31Z" fill="#fa0a0a"/>
<line x1="383.14" y1="695.4" x2="396.66" y2="695.4" stroke="#fa0a0a" stroke-width="0.9" />
<line x1="389.9" y1="695.1" x2="389.9" y2="702.35" stroke="#fa0a0a" stroke-width="1" />
<path d="M362.5 746.9L364.53 751.01L369.06 751.67L365.78 754.87L366.56 759.38L362.5 757.25L358.44 759.38L359.22 754.87L355.94 751.67L360.47 751.01Z" fill="#fa0a0a"/>
<line x1="355.74" y1="754.1" x2="369.26" y2="754.1" stroke="#fa0a0a" stroke-width="0.9" />
<line x1="362.5" y1="753.8" x2="362.5" y2="761.04" stroke="#fa0a0a" stroke-width="1" />
<text transform="translate(351.3 672.7) scale(1 1)" font-size="12.2" text-anchor="start" fill="#1a1a1a" stroke="#1a1a1a" stroke-width="0.3" >TA15-0.1Y<tspan font-size="8.4" dy="2.9">2</tspan><tspan dy="-2.9">O</tspan><tspan font-size="8.4" dy="2.9">3</tspan></text>
<text transform="translate(367 768.6) scale(1 1)" font-size="12.6" text-anchor="start" fill="#1c1c1c" font-weight="normal" stroke="#1c1c1c" stroke-width="0.3" >TA15</text>
<rect x="119.7" y="526.5" width="364.2" height="292.9" fill="none" stroke="#3a3a3a" stroke-width="1.1"/>
<line x1="116.7" y1="798.48" x2="119.7" y2="798.48" stroke="#3a3a3a" stroke-width="1" />
<line x1="116.7" y1="756.64" x2="119.7" y2="756.64" stroke="#3a3a3a" stroke-width="1" />
<line x1="116.7" y1="714.79" x2="119.7" y2="714.79" stroke="#3a3a3a" stroke-width="1" />
<line x1="116.7" y1="672.95" x2="119.7" y2="672.95" stroke="#3a3a3a" stroke-width="1" />
<line x1="116.7" y1="631.11" x2="119.7" y2="631.11" stroke="#3a3a3a" stroke-width="1" />
<line x1="116.7" y1="589.26" x2="119.7" y2="589.26" stroke="#3a3a3a" stroke-width="1" />
<line x1="116.7" y1="547.42" x2="119.7" y2="547.42" stroke="#3a3a3a" stroke-width="1" />
<line x1="114.1" y1="819.4" x2="119.7" y2="819.4" stroke="#3a3a3a" stroke-width="1" />
<text transform="translate(110.2 823.8) scale(1 1)" font-size="12.6" text-anchor="end" fill="#1c1c1c" font-weight="normal" stroke="#1c1c1c" stroke-width="0.3" >800</text>
<line x1="114.1" y1="777.56" x2="119.7" y2="777.56" stroke="#3a3a3a" stroke-width="1" />
<text transform="translate(110.2 781.96) scale(1 1)" font-size="12.6" text-anchor="end" fill="#1c1c1c" font-weight="normal" stroke="#1c1c1c" stroke-width="0.3" >900</text>
<line x1="114.1" y1="735.71" x2="119.7" y2="735.71" stroke="#3a3a3a" stroke-width="1" />
<text transform="translate(110.2 740.11) scale(1 1)" font-size="12.6" text-anchor="end" fill="#1c1c1c" font-weight="normal" stroke="#1c1c1c" stroke-width="0.3" >1000</text>
<line x1="114.1" y1="693.87" x2="119.7" y2="693.87" stroke="#3a3a3a" stroke-width="1" />
<text transform="translate(110.2 698.27) scale(1 1)" font-size="12.6" text-anchor="end" fill="#1c1c1c" font-weight="normal" stroke="#1c1c1c" stroke-width="0.3" >1100</text>
<line x1="114.1" y1="652.03" x2="119.7" y2="652.03" stroke="#3a3a3a" stroke-width="1" />
<text transform="translate(110.2 656.43) scale(1 1)" font-size="12.6" text-anchor="end" fill="#1c1c1c" font-weight="normal" stroke="#1c1c1c" stroke-width="0.3" >1200</text>
<line x1="114.1" y1="610.18" x2="119.7" y2="610.18" stroke="#3a3a3a" stroke-width="1" />
<text transform="translate(110.2 614.58) scale(1 1)" font-size="12.6" text-anchor="end" fill="#1c1c1c" font-weight="normal" stroke="#1c1c1c" stroke-width="0.3" >1300</text>
<line x1="114.1" y1="568.34" x2="119.7" y2="568.34" stroke="#3a3a3a" stroke-width="1" />
<text transform="translate(110.2 572.74) scale(1 1)" font-size="12.6" text-anchor="end" fill="#1c1c1c" font-weight="normal" stroke="#1c1c1c" stroke-width="0.3" >1400</text>
<line x1="114.1" y1="526.5" x2="119.7" y2="526.5" stroke="#3a3a3a" stroke-width="1" />
<text transform="translate(110.2 530.9) scale(1 1)" font-size="12.6" text-anchor="end" fill="#1c1c1c" font-weight="normal" stroke="#1c1c1c" stroke-width="0.3" >1500</text>
<line x1="137.04" y1="819.4" x2="137.04" y2="821.7" stroke="#3a3a3a" stroke-width="1" />
<line x1="171.72" y1="819.4" x2="171.72" y2="821.7" stroke="#3a3a3a" stroke-width="1" />
<line x1="206.4" y1="819.4" x2="206.4" y2="821.7" stroke="#3a3a3a" stroke-width="1" />
<line x1="241.08" y1="819.4" x2="241.08" y2="821.7" stroke="#3a3a3a" stroke-width="1" />
<line x1="275.76" y1="819.4" x2="275.76" y2="821.7" stroke="#3a3a3a" stroke-width="1" />
<line x1="310.44" y1="819.4" x2="310.44" y2="821.7" stroke="#3a3a3a" stroke-width="1" />
<line x1="345.12" y1="819.4" x2="345.12" y2="821.7" stroke="#3a3a3a" stroke-width="1" />
<line x1="379.8" y1="819.4" x2="379.8" y2="821.7" stroke="#3a3a3a" stroke-width="1" />
<line x1="414.48" y1="819.4" x2="414.48" y2="821.7" stroke="#3a3a3a" stroke-width="1" />
<line x1="449.16" y1="819.4" x2="449.16" y2="821.7" stroke="#3a3a3a" stroke-width="1" />
<line x1="483.84" y1="819.4" x2="483.84" y2="821.7" stroke="#3a3a3a" stroke-width="1" />
<line x1="119.7" y1="819.4" x2="119.7" y2="824.1" stroke="#3a3a3a" stroke-width="1" />
<text transform="translate(119.7 839.2) scale(1 1)" font-size="12.6" text-anchor="middle" fill="#1c1c1c" font-weight="normal" stroke="#1c1c1c" stroke-width="0.3" >0</text>
<line x1="154.38" y1="819.4" x2="154.38" y2="824.1" stroke="#3a3a3a" stroke-width="1" />
<text transform="translate(154.38 839.2) scale(1 1)" font-size="12.6" text-anchor="middle" fill="#1c1c1c" font-weight="normal" stroke="#1c1c1c" stroke-width="0.3" >2</text>
<line x1="189.06" y1="819.4" x2="189.06" y2="824.1" stroke="#3a3a3a" stroke-width="1" />
<text transform="translate(189.06 839.2) scale(1 1)" font-size="12.6" text-anchor="middle" fill="#1c1c1c" font-weight="normal" stroke="#1c1c1c" stroke-width="0.3" >4</text>
<line x1="223.74" y1="819.4" x2="223.74" y2="824.1" stroke="#3a3a3a" stroke-width="1" />
<text transform="translate(223.74 839.2) scale(1 1)" font-size="12.6" text-anchor="middle" fill="#1c1c1c" font-weight="normal" stroke="#1c1c1c" stroke-width="0.3" >6</text>
<line x1="258.42" y1="819.4" x2="258.42" y2="824.1" stroke="#3a3a3a" stroke-width="1" />
<text transform="translate(258.42 839.2) scale(1 1)" font-size="12.6" text-anchor="middle" fill="#1c1c1c" font-weight="normal" stroke="#1c1c1c" stroke-width="0.3" >8</text>
<line x1="293.1" y1="819.4" x2="293.1" y2="824.1" stroke="#3a3a3a" stroke-width="1" />
<text transform="translate(293.1 839.2) scale(1 1)" font-size="12.6" text-anchor="middle" fill="#1c1c1c" font-weight="normal" stroke="#1c1c1c" stroke-width="0.3" >10</text>
<line x1="327.78" y1="819.4" x2="327.78" y2="824.1" stroke="#3a3a3a" stroke-width="1" />
<text transform="translate(327.78 839.2) scale(1 1)" font-size="12.6" text-anchor="middle" fill="#1c1c1c" font-weight="normal" stroke="#1c1c1c" stroke-width="0.3" >12</text>
<line x1="362.46" y1="819.4" x2="362.46" y2="824.1" stroke="#3a3a3a" stroke-width="1" />
<text transform="translate(362.46 839.2) scale(1 1)" font-size="12.6" text-anchor="middle" fill="#1c1c1c" font-weight="normal" stroke="#1c1c1c" stroke-width="0.3" >14</text>
<line x1="397.14" y1="819.4" x2="397.14" y2="824.1" stroke="#3a3a3a" stroke-width="1" />
<text transform="translate(397.14 839.2) scale(1 1)" font-size="12.6" text-anchor="middle" fill="#1c1c1c" font-weight="normal" stroke="#1c1c1c" stroke-width="0.3" >16</text>
<line x1="431.82" y1="819.4" x2="431.82" y2="824.1" stroke="#3a3a3a" stroke-width="1" />
<text transform="translate(431.82 839.2) scale(1 1)" font-size="12.6" text-anchor="middle" fill="#1c1c1c" font-weight="normal" stroke="#1c1c1c" stroke-width="0.3" >18</text>
<line x1="466.5" y1="819.4" x2="466.5" y2="824.1" stroke="#3a3a3a" stroke-width="1" />
<text transform="translate(466.5 839.2) scale(1 1)" font-size="12.6" text-anchor="middle" fill="#1c1c1c" font-weight="normal" stroke="#1c1c1c" stroke-width="0.3" >20</text>
<text transform="translate(6.5 533.4) scale(1 1)" font-size="15.8" text-anchor="start" fill="#111" font-weight="bold" >E</text>
<text transform="translate(297.5 853.3) scale(1 1)" font-size="13.2" text-anchor="middle" fill="#1c1c1c" font-weight="normal" stroke="#1c1c1c" stroke-width="0.3" >Elongation (%)</text>
<text transform="translate(75.8 659) rotate(-90)" font-size="13.2" text-anchor="middle" fill="#1c1c1c" font-weight="normal" stroke="#1c1c1c" stroke-width="0.3" >Utimate tensile strength (MPa)</text>
<clipPath id="mc39"><rect x="520.8" y="526.7" width="14" height="7"/></clipPath>
<path d="M524 530.2H531.6V537.2H524Z" fill="#fff"/>
<path d="M524 530.2H531.6V537.2H524Z" fill="#4a4a4a" clip-path="url(#mc39)"/>
<path d="M524 530.2H531.6V537.2H524Z" fill="none" stroke="#4a4a4a" stroke-width="1" stroke-linejoin="miter"/>
<text transform="translate(537.2 536.7) scale(1 1)" font-size="11.5" text-anchor="start" fill="#1c1c1c" font-weight="normal" stroke="#1c1c1c" stroke-width="0.3" >LMD-TA15</text>
<clipPath id="mc40"><rect x="520.8" y="547.8" width="14" height="7"/></clipPath>
<path d="M527.8 543.05L532.55 551.6L523.05 551.6Z" fill="#fff"/>
<path d="M527.8 543.05L532.55 551.6L523.05 551.6Z" fill="#1f64d8" clip-path="url(#mc40)"/>
<path d="M527.8 543.05L532.55 551.6L523.05 551.6Z" fill="none" stroke="#1f64d8" stroke-width="1" stroke-linejoin="miter"/>
<text transform="translate(537.2 550.8) scale(1 1)" font-size="11.5" text-anchor="start" fill="#1c1c1c" font-weight="normal" stroke="#1c1c1c" stroke-width="0.3" >LPBF-TA15</text>
<clipPath id="mc41"><rect x="520.8" y="555" width="7" height="14"/></clipPath>
<path d="M527.8 566.75L532.55 558.2L523.05 558.2Z" fill="#fff"/>
<path d="M527.8 566.75L532.55 558.2L523.05 558.2Z" fill="#1fa462" clip-path="url(#mc41)"/>
<path d="M527.8 566.75L532.55 558.2L523.05 558.2Z" fill="none" stroke="#1fa462" stroke-width="1" stroke-linejoin="miter"/>
<text transform="translate(537.2 565) scale(1 1)" font-size="11.5" text-anchor="start" fill="#1c1c1c" font-weight="normal" stroke="#1c1c1c" stroke-width="0.3" >SLM-TA15</text>
<clipPath id="mc42"><rect x="520.8" y="569.1" width="14" height="7"/></clipPath>
<path d="M527.8 571L532.9 576.1L527.8 581.2L522.7 576.1Z" fill="#fff"/>
<path d="M527.8 571L532.9 576.1L527.8 581.2L522.7 576.1Z" fill="#b072e0" clip-path="url(#mc42)"/>
<path d="M527.8 571L532.9 576.1L527.8 581.2L522.7 576.1Z" fill="none" stroke="#b072e0" stroke-width="1" stroke-linejoin="miter"/>
<text transform="translate(537.2 579.1) scale(1 1)" font-size="11.5" text-anchor="start" fill="#1c1c1c" font-weight="normal" stroke="#1c1c1c" stroke-width="0.3" >LPBF-TA15</text>
<clipPath id="mc43"><rect x="527.8" y="583.3" width="7" height="14"/></clipPath>
<path d="M522.85 590.3L531.76 585L531.76 595.6Z" fill="#fff"/>
<path d="M522.85 590.3L531.76 585L531.76 595.6Z" fill="#d29a12" clip-path="url(#mc43)"/>
<path d="M522.85 590.3L531.76 585L531.76 595.6Z" fill="none" stroke="#d29a12" stroke-width="1" stroke-linejoin="miter"/>
<text transform="translate(537.2 593.3) scale(1 1)" font-size="11.5" text-anchor="start" fill="#1c1c1c" font-weight="normal" stroke="#1c1c1c" stroke-width="0.3" >LPBF-TA15</text>
<clipPath id="mc44"><rect x="520.8" y="604.4" width="14" height="7"/></clipPath>
<path d="M532.75 604.4L523.84 599.1L523.84 609.7Z" fill="#fff"/>
<path d="M532.75 604.4L523.84 599.1L523.84 609.7Z" fill="#20c8cc" clip-path="url(#mc44)"/>
<path d="M532.75 604.4L523.84 599.1L523.84 609.7Z" fill="none" stroke="#20c8cc" stroke-width="1" stroke-linejoin="miter"/>
<text transform="translate(537.2 607.4) scale(1 1)" font-size="11.5" text-anchor="start" fill="#1c1c1c" font-weight="normal" stroke="#1c1c1c" stroke-width="0.3" >SLM-TA15</text>
<clipPath id="mc45"><rect x="520.8" y="612.9" width="14" height="7"/></clipPath>
<path d="M527.8 614.5L529 617.44L532.17 617.68L529.75 619.73L530.5 622.82L527.8 621.15L525.1 622.82L525.85 619.73L523.43 617.68L526.6 617.44Z" fill="#fff"/>
<path d="M527.8 614.5L529 617.44L532.17 617.68L529.75 619.73L530.5 622.82L527.8 621.15L525.1 622.82L525.85 619.73L523.43 617.68L526.6 617.44Z" fill="#8a8a12" clip-path="url(#mc45)"/>
<path d="M527.8 614.5L529 617.44L532.17 617.68L529.75 619.73L530.5 622.82L527.8 621.15L525.1 622.82L525.85 619.73L523.43 617.68L526.6 617.44Z" fill="none" stroke="#8a8a12" stroke-width="1" stroke-linejoin="miter"/>
<text transform="translate(537.2 621.6) scale(1 1)" font-size="11.5" text-anchor="start" fill="#1c1c1c" font-weight="normal" stroke="#1c1c1c" stroke-width="0.3" >LPBF-TA15</text>
<clipPath id="mc46"><rect x="527.8" y="625.7" width="7" height="14"/></clipPath>
<path d="M527.8 628.8L532.27 632.05L530.56 637.3L525.04 637.3L523.33 632.05Z" fill="#fff"/>
<path d="M527.8 628.8L532.27 632.05L530.56 637.3L525.04 637.3L523.33 632.05Z" fill="#ff6414" clip-path="url(#mc46)"/>
<path d="M527.8 628.8L532.27 632.05L530.56 637.3L525.04 637.3L523.33 632.05Z" fill="none" stroke="#ff6414" stroke-width="1" stroke-linejoin="miter"/>
<text transform="translate(537.2 635.7) scale(1 1)" font-size="11.5" text-anchor="start" fill="#1c1c1c" font-weight="normal" stroke="#1c1c1c" stroke-width="0.3" >LPBF-TA15</text>
<circle cx="527.8" cy="647" r="4.6" fill="url(#sph)"/>
<text transform="translate(537.2 650) scale(1 1)" font-size="11.5" text-anchor="start" fill="#1c1c1c" font-weight="normal" stroke="#1c1c1c" stroke-width="0.3" >SLM-TA15</text>
<path d="M527.8 654.6L529.56 658.17L533.51 658.75L530.65 661.53L531.33 665.45L527.8 663.6L524.27 665.45L524.95 661.53L522.09 658.75L526.04 658.17Z" fill="#fa0a0a"/>
<line x1="521.92" y1="660.9" x2="533.68" y2="660.9" stroke="#fa0a0a" stroke-width="0.9" />
<line x1="527.8" y1="660.6" x2="527.8" y2="666.9" stroke="#fa0a0a" stroke-width="1" />
<text transform="translate(537.2 664.3) scale(1 1)" font-size="11.5" text-anchor="start" fill="#ee1111" font-weight="normal" stroke="#ee1111" stroke-width="0.3" >This work</text>
<clipPath id="mc47"><rect x="522.2" y="678.55" width="14" height="7"/></clipPath>
<path d="M529.2 673.7L533.32 676.13L533.32 680.98L529.2 683.4L525.08 680.98L525.08 676.13Z" fill="#fff"/>
<path d="M529.2 673.7L533.32 676.13L533.32 680.98L529.2 683.4L525.08 680.98L525.08 676.13Z" fill="#f53a9a" clip-path="url(#mc47)"/>
<path d="M529.2 673.7L533.32 676.13L533.32 680.98L529.2 683.4L525.08 680.98L525.08 676.13Z" fill="none" stroke="#f53a9a" stroke-width="1" stroke-linejoin="miter"/>
<text transform="translate(540.4 681.9) scale(1 1)" font-size="12.4" text-anchor="start" fill="#1c1c1c" font-weight="normal" stroke="#1c1c1c" stroke-width="0.3" >HP TiBw/TA15(Si)</text>
<clipPath id="mc48"><rect x="522.2" y="694.75" width="14" height="7"/></clipPath>
<circle cx="529.2" cy="694.75" r="4.85" fill="#fff"/>
<circle cx="529.2" cy="694.75" r="4.85" fill="#8e98f6" clip-path="url(#mc48)"/>
<circle cx="529.2" cy="694.75" r="4.35" fill="none" stroke="#8e98f6" stroke-width="1"/>
<text transform="translate(540.4 698.1) scale(1 1)" font-size="12.4" text-anchor="start" fill="#1c1c1c" font-weight="normal" stroke="#1c1c1c" stroke-width="0.3" >WAAM-TA15</text>
<clipPath id="mc49"><rect x="529.2" y="703.95" width="7" height="14"/></clipPath>
<path d="M529.2 705.85L534.3 710.95L529.2 716.05L524.1 710.95Z" fill="#fff"/>
<path d="M529.2 705.85L534.3 710.95L529.2 716.05L524.1 710.95Z" fill="#22e022" clip-path="url(#mc49)"/>
<path d="M529.2 705.85L534.3 710.95L529.2 716.05L524.1 710.95Z" fill="none" stroke="#22e022" stroke-width="1" stroke-linejoin="miter"/>
<text transform="translate(540.4 714.3) scale(1 1)" font-size="12.4" text-anchor="start" fill="#1c1c1c" font-weight="normal" stroke="#1c1c1c" stroke-width="0.3" >LPBF-TA15</text>
<clipPath id="mc50"><rect x="522.2" y="720.05" width="7" height="14"/></clipPath>
<path d="M534.15 727.05L525.24 721.75L525.24 732.35Z" fill="#fff"/>
<path d="M534.15 727.05L525.24 721.75L525.24 732.35Z" fill="#801a8c" clip-path="url(#mc50)"/>
<path d="M534.15 727.05L525.24 721.75L525.24 732.35Z" fill="none" stroke="#801a8c" stroke-width="1" stroke-linejoin="miter"/>
<text transform="translate(540.4 730.4) scale(1 1)" font-size="12.4" text-anchor="start" fill="#1c1c1c" font-weight="normal" stroke="#1c1c1c" stroke-width="0.3" >LPBF-TA15</text>
<clipPath id="mc51"><rect x="522.2" y="735.75" width="14" height="7"/></clipPath>
<path d="M529.2 737.9L533.32 740.33L533.32 745.17L529.2 747.6L525.08 745.17L525.08 740.33Z" fill="#fff"/>
<path d="M529.2 737.9L533.32 740.33L533.32 745.17L529.2 747.6L525.08 745.17L525.08 740.33Z" fill="#f01010" clip-path="url(#mc51)"/>
<path d="M529.2 737.9L533.32 740.33L533.32 745.17L529.2 747.6L525.08 745.17L525.08 740.33Z" fill="none" stroke="#f01010" stroke-width="1" stroke-linejoin="miter"/>
<text transform="translate(540.4 746.1) scale(1 1)" font-size="12.4" text-anchor="start" fill="#1c1c1c" font-weight="normal" stroke="#1c1c1c" stroke-width="0.3" >LMD-TiC/TA15</text>
<clipPath id="mc52"><rect x="529.2" y="751.85" width="7" height="14"/></clipPath>
<path d="M534.15 758.85L525.24 753.55L525.24 764.15Z" fill="#fff"/>
<path d="M534.15 758.85L525.24 753.55L525.24 764.15Z" fill="#ff4cb4" clip-path="url(#mc52)"/>
<path d="M534.15 758.85L525.24 753.55L525.24 764.15Z" fill="none" stroke="#ff4cb4" stroke-width="1" stroke-linejoin="miter"/>
<text transform="translate(540.4 762.2) scale(1 1)" font-size="12.4" text-anchor="start" fill="#1c1c1c" font-weight="normal" stroke="#1c1c1c" stroke-width="0.3" >TiC/TA15</text>
<clipPath id="mc53"><rect x="522.2" y="767.65" width="7" height="14"/></clipPath>
<circle cx="529.2" cy="774.65" r="4.85" fill="#fff"/>
<circle cx="529.2" cy="774.65" r="4.85" fill="#128c12" clip-path="url(#mc53)"/>
<circle cx="529.2" cy="774.65" r="4.35" fill="none" stroke="#128c12" stroke-width="1"/>
<text transform="translate(540.4 778) scale(1 1)" font-size="12.4" text-anchor="start" fill="#1c1c1c" font-weight="normal" stroke="#1c1c1c" stroke-width="0.3" >TiBw/TA15</text>
</svg>
</body></html>
